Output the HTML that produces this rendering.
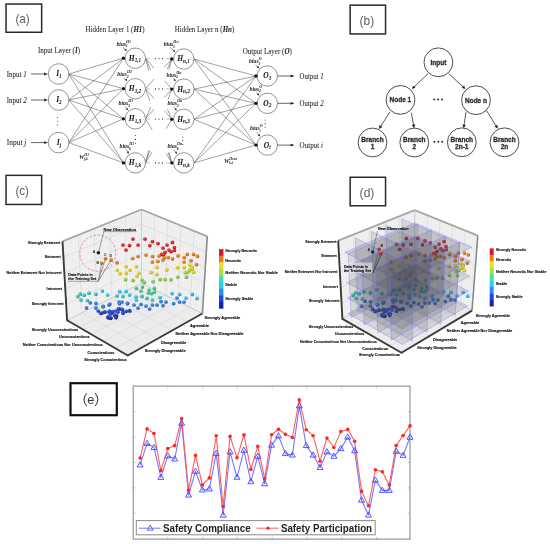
<!DOCTYPE html>
<html><head><meta charset="utf-8"><title>Figure</title>
<style>html,body{margin:0;padding:0;background:#fff;}body{width:550px;height:544px;overflow:hidden;}svg{display:block;filter:blur(0.45px);}</style>
</head><body>
<svg width="550" height="544" viewBox="0 0 550 544">
<rect width="550" height="544" fill="#fff"/>
<defs>
<radialGradient id="g_red" cx="0.4" cy="0.35" r="0.65"><stop offset="0" stop-color="#e4565a"/><stop offset="0.55" stop-color="#dc1e24"/><stop offset="1" stop-color="#9a1519"/></radialGradient>
<radialGradient id="g_org" cx="0.4" cy="0.35" r="0.65"><stop offset="0" stop-color="#eb9b54"/><stop offset="0.55" stop-color="#e57a1c"/><stop offset="1" stop-color="#a05513"/></radialGradient>
<radialGradient id="g_yel" cx="0.4" cy="0.35" r="0.65"><stop offset="0" stop-color="#e9db54"/><stop offset="0.55" stop-color="#e2cf1c"/><stop offset="1" stop-color="#9e9013"/></radialGradient>
<radialGradient id="g_yg" cx="0.4" cy="0.35" r="0.65"><stop offset="0" stop-color="#c6e060"/><stop offset="0.55" stop-color="#b4d62c"/><stop offset="1" stop-color="#7d951e"/></radialGradient>
<radialGradient id="g_lg" cx="0.4" cy="0.35" r="0.65"><stop offset="0" stop-color="#a2d875"/><stop offset="0.55" stop-color="#84cc48"/><stop offset="1" stop-color="#5c8e32"/></radialGradient>
<radialGradient id="g_grn" cx="0.4" cy="0.35" r="0.65"><stop offset="0" stop-color="#6cd5a8"/><stop offset="0.55" stop-color="#3cc88c"/><stop offset="1" stop-color="#2a8c62"/></radialGradient>
<radialGradient id="g_teal" cx="0.4" cy="0.35" r="0.65"><stop offset="0" stop-color="#62d4d1"/><stop offset="0.55" stop-color="#2ec6c2"/><stop offset="1" stop-color="#208a87"/></radialGradient>
<radialGradient id="g_cyan" cx="0.4" cy="0.35" r="0.65"><stop offset="0" stop-color="#63cfea"/><stop offset="0.55" stop-color="#30bfe4"/><stop offset="1" stop-color="#21859f"/></radialGradient>
<radialGradient id="g_blue" cx="0.4" cy="0.35" r="0.65"><stop offset="0" stop-color="#5f9be1"/><stop offset="0.55" stop-color="#2a7ad8"/><stop offset="1" stop-color="#1d5597"/></radialGradient>
<radialGradient id="g_dblue" cx="0.4" cy="0.35" r="0.65"><stop offset="0" stop-color="#5772d5"/><stop offset="0.55" stop-color="#1f44c8"/><stop offset="1" stop-color="#152f8c"/></radialGradient>
<radialGradient id="g_navy" cx="0.4" cy="0.35" r="0.65"><stop offset="0" stop-color="#535fbd"/><stop offset="0.55" stop-color="#1a2aa8"/><stop offset="1" stop-color="#121d75"/></radialGradient>
</defs>
<rect x="6.05" y="4.05" width="35.6" height="28.2" fill="none" stroke="#2a2a2a" stroke-width="1.5"/>
<text x="15.4" y="23.3" font-family='"Liberation Sans", sans-serif' font-size="13" font-weight="normal" font-style="normal" fill="#5e5e66" text-anchor="start" textLength="14.4" lengthAdjust="spacingAndGlyphs">(a)</text>
<rect x="350.15" y="5.15" width="35.4" height="28.8" fill="none" stroke="#2a2a2a" stroke-width="1.5"/>
<text x="359.6" y="24.6" font-family='"Liberation Sans", sans-serif' font-size="13" font-weight="normal" font-style="normal" fill="#5e5e66" text-anchor="start" textLength="14.6" lengthAdjust="spacingAndGlyphs">(b)</text>
<rect x="6.05" y="175.35" width="35.6" height="29.1" fill="none" stroke="#2a2a2a" stroke-width="1.5"/>
<text x="15.4" y="195.2" font-family='"Liberation Sans", sans-serif' font-size="13" font-weight="normal" font-style="normal" fill="#5e5e66" text-anchor="start" textLength="13.5" lengthAdjust="spacingAndGlyphs">(c)</text>
<rect x="350.15" y="177.25" width="35.4" height="28.5" fill="none" stroke="#2a2a2a" stroke-width="1.5"/>
<text x="359.6" y="196.5" font-family='"Liberation Sans", sans-serif' font-size="13" font-weight="normal" font-style="normal" fill="#5e5e66" text-anchor="start" textLength="14.8" lengthAdjust="spacingAndGlyphs">(d)</text>
<rect x="70.5" y="383.2" width="46.3" height="32" fill="none" stroke="#111" stroke-width="2.2"/>
<text x="81.3" y="404.9" font-family='"IPAGothic", "Liberation Sans", sans-serif' font-size="14.2" fill="#3a3a3a">(</text>
<text x="87.3" y="404.3" font-family='"Liberation Sans", sans-serif' font-size="12.6" fill="#3a3a3a" textLength="7.2" lengthAdjust="spacingAndGlyphs">e</text>
<text x="93.4" y="404.9" font-family='"IPAGothic", "Liberation Sans", sans-serif' font-size="14.2" fill="#3a3a3a">)</text>
<line x1="68.8" y1="74" x2="123.5" y2="58.2" stroke="#555" stroke-width="0.55"/>
<line x1="68.8" y1="74" x2="123.5" y2="88.7" stroke="#555" stroke-width="0.55"/>
<line x1="68.8" y1="74" x2="123.5" y2="118.8" stroke="#555" stroke-width="0.55"/>
<line x1="68.8" y1="74" x2="123.5" y2="162.9" stroke="#555" stroke-width="0.55"/>
<line x1="68.8" y1="100" x2="123.5" y2="58.2" stroke="#555" stroke-width="0.55"/>
<line x1="68.8" y1="100" x2="123.5" y2="88.7" stroke="#555" stroke-width="0.55"/>
<line x1="68.8" y1="100" x2="123.5" y2="118.8" stroke="#555" stroke-width="0.55"/>
<line x1="68.8" y1="100" x2="123.5" y2="162.9" stroke="#555" stroke-width="0.55"/>
<line x1="68.8" y1="142.6" x2="123.5" y2="58.2" stroke="#555" stroke-width="0.55"/>
<line x1="68.8" y1="142.6" x2="123.5" y2="88.7" stroke="#555" stroke-width="0.55"/>
<line x1="68.8" y1="142.6" x2="123.5" y2="118.8" stroke="#555" stroke-width="0.55"/>
<line x1="68.8" y1="142.6" x2="123.5" y2="162.9" stroke="#555" stroke-width="0.55"/>
<line x1="194" y1="59" x2="256" y2="76" stroke="#555" stroke-width="0.55"/>
<line x1="194" y1="59" x2="256" y2="103.3" stroke="#555" stroke-width="0.55"/>
<line x1="194" y1="59" x2="256" y2="145.1" stroke="#555" stroke-width="0.55"/>
<line x1="194" y1="89.1" x2="256" y2="76" stroke="#555" stroke-width="0.55"/>
<line x1="194" y1="89.1" x2="256" y2="103.3" stroke="#555" stroke-width="0.55"/>
<line x1="194" y1="89.1" x2="256" y2="145.1" stroke="#555" stroke-width="0.55"/>
<line x1="194" y1="119.3" x2="256" y2="76" stroke="#555" stroke-width="0.55"/>
<line x1="194" y1="119.3" x2="256" y2="103.3" stroke="#555" stroke-width="0.55"/>
<line x1="194" y1="119.3" x2="256" y2="145.1" stroke="#555" stroke-width="0.55"/>
<line x1="194" y1="162.9" x2="256" y2="76" stroke="#555" stroke-width="0.55"/>
<line x1="194" y1="162.9" x2="256" y2="103.3" stroke="#555" stroke-width="0.55"/>
<line x1="194" y1="162.9" x2="256" y2="145.1" stroke="#555" stroke-width="0.55"/>
<line x1="145.5" y1="58.2" x2="153.93" y2="68.1" stroke="#555" stroke-width="0.55"/>
<line x1="145.5" y1="58.2" x2="150.64" y2="70.14" stroke="#555" stroke-width="0.55"/>
<line x1="145.5" y1="58.2" x2="148.67" y2="70.81" stroke="#555" stroke-width="0.55"/>
<line x1="145.5" y1="88.7" x2="154.12" y2="78.97" stroke="#555" stroke-width="0.55"/>
<line x1="145.5" y1="88.7" x2="153.97" y2="98.56" stroke="#555" stroke-width="0.55"/>
<line x1="145.5" y1="88.7" x2="149.84" y2="100.95" stroke="#555" stroke-width="0.55"/>
<line x1="145.5" y1="118.8" x2="150.73" y2="106.9" stroke="#555" stroke-width="0.55"/>
<line x1="145.5" y1="118.8" x2="154.12" y2="109.07" stroke="#555" stroke-width="0.55"/>
<line x1="145.5" y1="118.8" x2="152.16" y2="129.97" stroke="#555" stroke-width="0.55"/>
<line x1="145.5" y1="162.9" x2="148.69" y2="150.3" stroke="#555" stroke-width="0.55"/>
<line x1="145.5" y1="162.9" x2="149.86" y2="150.65" stroke="#555" stroke-width="0.55"/>
<line x1="145.5" y1="162.9" x2="152.21" y2="151.77" stroke="#555" stroke-width="0.55"/>
<line x1="171.8" y1="59" x2="164.51" y2="67.24" stroke="#555" stroke-width="0.55"/>
<line x1="171.8" y1="59" x2="167.37" y2="69.07" stroke="#555" stroke-width="0.55"/>
<line x1="171.8" y1="59" x2="169.1" y2="69.66" stroke="#555" stroke-width="0.55"/>
<line x1="171.8" y1="89.1" x2="164.67" y2="80.72" stroke="#555" stroke-width="0.55"/>
<line x1="171.8" y1="89.1" x2="164.51" y2="97.34" stroke="#555" stroke-width="0.55"/>
<line x1="171.8" y1="89.1" x2="168.11" y2="99.46" stroke="#555" stroke-width="0.55"/>
<line x1="171.8" y1="119.3" x2="167.45" y2="109.2" stroke="#555" stroke-width="0.55"/>
<line x1="171.8" y1="119.3" x2="164.63" y2="110.96" stroke="#555" stroke-width="0.55"/>
<line x1="171.8" y1="119.3" x2="166.12" y2="128.72" stroke="#555" stroke-width="0.55"/>
<line x1="171.8" y1="162.9" x2="169.12" y2="152.23" stroke="#555" stroke-width="0.55"/>
<line x1="171.8" y1="162.9" x2="168.13" y2="152.53" stroke="#555" stroke-width="0.55"/>
<line x1="171.8" y1="162.9" x2="166.17" y2="153.45" stroke="#555" stroke-width="0.55"/>
<line x1="145.5" y1="58.6" x2="150" y2="58.6" stroke="#999" stroke-width="0.6"/>
<circle cx="155.5" cy="58.6" r="0.6" fill="#222" stroke="none" stroke-width="0.8"/>
<circle cx="159" cy="58.6" r="0.6" fill="#222" stroke="none" stroke-width="0.8"/>
<circle cx="162.5" cy="58.6" r="0.6" fill="#222" stroke="none" stroke-width="0.8"/>
<line x1="166" y1="58.6" x2="171.8" y2="58.6" stroke="#999" stroke-width="0.6"/>
<line x1="145.5" y1="88.9" x2="150" y2="88.9" stroke="#999" stroke-width="0.6"/>
<circle cx="155.5" cy="88.9" r="0.6" fill="#222" stroke="none" stroke-width="0.8"/>
<circle cx="159" cy="88.9" r="0.6" fill="#222" stroke="none" stroke-width="0.8"/>
<circle cx="162.5" cy="88.9" r="0.6" fill="#222" stroke="none" stroke-width="0.8"/>
<line x1="166" y1="88.9" x2="171.8" y2="88.9" stroke="#999" stroke-width="0.6"/>
<line x1="145.5" y1="119.05" x2="150" y2="119.05" stroke="#999" stroke-width="0.6"/>
<circle cx="155.5" cy="119.05" r="0.6" fill="#222" stroke="none" stroke-width="0.8"/>
<circle cx="159" cy="119.05" r="0.6" fill="#222" stroke="none" stroke-width="0.8"/>
<circle cx="162.5" cy="119.05" r="0.6" fill="#222" stroke="none" stroke-width="0.8"/>
<line x1="166" y1="119.05" x2="171.8" y2="119.05" stroke="#999" stroke-width="0.6"/>
<line x1="145.5" y1="162.9" x2="150" y2="162.9" stroke="#999" stroke-width="0.6"/>
<circle cx="155.5" cy="162.9" r="0.6" fill="#222" stroke="none" stroke-width="0.8"/>
<circle cx="159" cy="162.9" r="0.6" fill="#222" stroke="none" stroke-width="0.8"/>
<circle cx="162.5" cy="162.9" r="0.6" fill="#222" stroke="none" stroke-width="0.8"/>
<line x1="166" y1="162.9" x2="171.8" y2="162.9" stroke="#999" stroke-width="0.6"/>
<circle cx="58.6" cy="74" r="10.3" fill="#fff" stroke="#666" stroke-width="0.7"/>
<circle cx="58.6" cy="100" r="10.3" fill="#fff" stroke="#666" stroke-width="0.7"/>
<circle cx="58.6" cy="142.6" r="10.3" fill="#fff" stroke="#666" stroke-width="0.7"/>
<circle cx="135.3" cy="58.2" r="10.2" fill="#fff" stroke="#666" stroke-width="0.7"/>
<circle cx="135.3" cy="88.7" r="10.2" fill="#fff" stroke="#666" stroke-width="0.7"/>
<circle cx="135.3" cy="118.8" r="10.2" fill="#fff" stroke="#666" stroke-width="0.7"/>
<circle cx="135.3" cy="162.9" r="10.2" fill="#fff" stroke="#666" stroke-width="0.7"/>
<circle cx="183.8" cy="59" r="10.2" fill="#fff" stroke="#666" stroke-width="0.7"/>
<circle cx="183.8" cy="89.1" r="10.2" fill="#fff" stroke="#666" stroke-width="0.7"/>
<circle cx="183.8" cy="119.3" r="10.2" fill="#fff" stroke="#666" stroke-width="0.7"/>
<circle cx="183.8" cy="162.9" r="10.2" fill="#fff" stroke="#666" stroke-width="0.7"/>
<circle cx="267.3" cy="76" r="10.2" fill="#fff" stroke="#666" stroke-width="0.7"/>
<circle cx="267.3" cy="103.3" r="10.2" fill="#fff" stroke="#666" stroke-width="0.7"/>
<circle cx="267.3" cy="145.1" r="10.2" fill="#fff" stroke="#666" stroke-width="0.7"/>
<circle cx="123.5" cy="58.2" r="1.65" fill="#111" stroke="none" stroke-width="0.8"/>
<circle cx="123.5" cy="88.7" r="1.65" fill="#111" stroke="none" stroke-width="0.8"/>
<circle cx="123.5" cy="118.8" r="1.65" fill="#111" stroke="none" stroke-width="0.8"/>
<circle cx="123.5" cy="162.9" r="1.65" fill="#111" stroke="none" stroke-width="0.8"/>
<circle cx="171.8" cy="59" r="1.65" fill="#111" stroke="none" stroke-width="0.8"/>
<circle cx="171.8" cy="89.1" r="1.65" fill="#111" stroke="none" stroke-width="0.8"/>
<circle cx="171.8" cy="119.3" r="1.65" fill="#111" stroke="none" stroke-width="0.8"/>
<circle cx="171.8" cy="162.9" r="1.65" fill="#111" stroke="none" stroke-width="0.8"/>
<circle cx="256" cy="76" r="1.65" fill="#111" stroke="none" stroke-width="0.8"/>
<circle cx="256" cy="103.3" r="1.65" fill="#111" stroke="none" stroke-width="0.8"/>
<circle cx="256" cy="145.1" r="1.65" fill="#111" stroke="none" stroke-width="0.8"/>
<text x="58.9" y="76.4" font-family='"Liberation Serif", serif' font-size="7.5" font-weight="bold" font-style="italic" fill="#1a1a1a" stroke="#1a1a1a" stroke-width="0.05" text-anchor="middle">I<tspan font-size="5.2" dy="1.6">1</tspan></text>
<text x="58.9" y="102.4" font-family='"Liberation Serif", serif' font-size="7.5" font-weight="bold" font-style="italic" fill="#1a1a1a" stroke="#1a1a1a" stroke-width="0.05" text-anchor="middle">I<tspan font-size="5.2" dy="1.6">2</tspan></text>
<text x="58.9" y="145" font-family='"Liberation Serif", serif' font-size="7.5" font-weight="bold" font-style="italic" fill="#1a1a1a" stroke="#1a1a1a" stroke-width="0.05" text-anchor="middle">I<tspan font-size="5.2" dy="1.6">j</tspan></text>
<text x="135" y="60.6" font-family='"Liberation Serif", serif' font-size="7.5" font-weight="bold" font-style="italic" fill="#1a1a1a" stroke="#1a1a1a" stroke-width="0.05" text-anchor="middle">H<tspan font-size="5.2" dy="1.6">1,1</tspan></text>
<text x="135" y="91.1" font-family='"Liberation Serif", serif' font-size="7.5" font-weight="bold" font-style="italic" fill="#1a1a1a" stroke="#1a1a1a" stroke-width="0.05" text-anchor="middle">H<tspan font-size="5.2" dy="1.6">1,2</tspan></text>
<text x="135" y="121.2" font-family='"Liberation Serif", serif' font-size="7.5" font-weight="bold" font-style="italic" fill="#1a1a1a" stroke="#1a1a1a" stroke-width="0.05" text-anchor="middle">H<tspan font-size="5.2" dy="1.6">1,3</tspan></text>
<text x="135" y="165.3" font-family='"Liberation Serif", serif' font-size="7.5" font-weight="bold" font-style="italic" fill="#1a1a1a" stroke="#1a1a1a" stroke-width="0.05" text-anchor="middle">H<tspan font-size="5.2" dy="1.6">1,k</tspan></text>
<text x="183.5" y="61.4" font-family='"Liberation Serif", serif' font-size="7.5" font-weight="bold" font-style="italic" fill="#1a1a1a" stroke="#1a1a1a" stroke-width="0.05" text-anchor="middle">H<tspan font-size="5.2" dy="1.6">n,1</tspan></text>
<text x="183.5" y="91.5" font-family='"Liberation Serif", serif' font-size="7.5" font-weight="bold" font-style="italic" fill="#1a1a1a" stroke="#1a1a1a" stroke-width="0.05" text-anchor="middle">H<tspan font-size="5.2" dy="1.6">n,2</tspan></text>
<text x="183.5" y="121.7" font-family='"Liberation Serif", serif' font-size="7.5" font-weight="bold" font-style="italic" fill="#1a1a1a" stroke="#1a1a1a" stroke-width="0.05" text-anchor="middle">H<tspan font-size="5.2" dy="1.6">n,3</tspan></text>
<text x="183.5" y="165.3" font-family='"Liberation Serif", serif' font-size="7.5" font-weight="bold" font-style="italic" fill="#1a1a1a" stroke="#1a1a1a" stroke-width="0.05" text-anchor="middle">H<tspan font-size="5.2" dy="1.6">n,k</tspan></text>
<text x="267.3" y="78.4" font-family='"Liberation Serif", serif' font-size="7.5" font-weight="bold" font-style="italic" fill="#1a1a1a" stroke="#1a1a1a" stroke-width="0.05" text-anchor="middle">O<tspan font-size="5.2" dy="1.6">1</tspan></text>
<text x="267.3" y="105.7" font-family='"Liberation Serif", serif' font-size="7.5" font-weight="bold" font-style="italic" fill="#1a1a1a" stroke="#1a1a1a" stroke-width="0.05" text-anchor="middle">O<tspan font-size="5.2" dy="1.6">2</tspan></text>
<text x="267.3" y="147.5" font-family='"Liberation Serif", serif' font-size="7.5" font-weight="bold" font-style="italic" fill="#1a1a1a" stroke="#1a1a1a" stroke-width="0.05" text-anchor="middle">O<tspan font-size="5.2" dy="1.6">i</tspan></text>
<text x="116.4" y="45.6" font-family='"Liberation Serif", serif' font-size="5.8" font-weight="bold" font-style="italic" fill="#1a1a1a">bias<tspan font-size="3.9" dy="-2.9">H1</tspan></text>
<text x="125.8" y="47.4" font-family='"Liberation Serif", serif' font-size="3.9" font-weight="bold" font-style="italic" fill="#1a1a1a">1</text>
<line x1="123" y1="47.5" x2="125.34" y2="49.54" stroke="#222" stroke-width="0.5"/>
<polygon points="126.93,50.91 124.36,50.21 125.87,48.47" fill="#222" stroke="none" stroke-width="1"/>
<text x="117.3" y="75.7" font-family='"Liberation Serif", serif' font-size="5.8" font-weight="bold" font-style="italic" fill="#1a1a1a">bias<tspan font-size="3.9" dy="-2.9">H1</tspan></text>
<text x="126.7" y="77.5" font-family='"Liberation Serif", serif' font-size="3.9" font-weight="bold" font-style="italic" fill="#1a1a1a">2</text>
<line x1="123.9" y1="77.6" x2="125.84" y2="79.49" stroke="#222" stroke-width="0.5"/>
<polygon points="127.35,80.96 124.83,80.11 126.43,78.46" fill="#222" stroke="none" stroke-width="1"/>
<text x="118.5" y="104.9" font-family='"Liberation Serif", serif' font-size="5.8" font-weight="bold" font-style="italic" fill="#1a1a1a">bias<tspan font-size="3.9" dy="-2.9">H1</tspan></text>
<text x="127.9" y="106.7" font-family='"Liberation Serif", serif' font-size="3.9" font-weight="bold" font-style="italic" fill="#1a1a1a">3</text>
<line x1="125.1" y1="106.8" x2="126.75" y2="108.74" stroke="#222" stroke-width="0.5"/>
<polygon points="128.11,110.34 125.68,109.26 127.43,107.77" fill="#222" stroke="none" stroke-width="1"/>
<text x="119.6" y="147.7" font-family='"Liberation Serif", serif' font-size="5.8" font-weight="bold" font-style="italic" fill="#1a1a1a">bias<tspan font-size="3.9" dy="-2.9">H1</tspan></text>
<text x="129" y="149.5" font-family='"Liberation Serif", serif' font-size="3.9" font-weight="bold" font-style="italic" fill="#1a1a1a">k</text>
<line x1="126.2" y1="149.6" x2="127.85" y2="152.01" stroke="#222" stroke-width="0.5"/>
<polygon points="129.03,153.74 126.73,152.41 128.63,151.11" fill="#222" stroke="none" stroke-width="1"/>
<text x="163.7" y="45.8" font-family='"Liberation Serif", serif' font-size="5.8" font-weight="bold" font-style="italic" fill="#1a1a1a">bias<tspan font-size="3.9" dy="-2.9">Hn</tspan></text>
<text x="173.1" y="47.6" font-family='"Liberation Serif", serif' font-size="3.9" font-weight="bold" font-style="italic" fill="#1a1a1a">1</text>
<line x1="170.3" y1="47.7" x2="173.68" y2="50.53" stroke="#222" stroke-width="0.5"/>
<polygon points="175.29,51.88 172.71,51.22 174.19,49.45" fill="#222" stroke="none" stroke-width="1"/>
<text x="166.6" y="76.6" font-family='"Liberation Serif", serif' font-size="5.8" font-weight="bold" font-style="italic" fill="#1a1a1a">bias<tspan font-size="3.9" dy="-2.9">Hn</tspan></text>
<text x="176" y="78.4" font-family='"Liberation Serif", serif' font-size="3.9" font-weight="bold" font-style="italic" fill="#1a1a1a">2</text>
<line x1="173.2" y1="78.5" x2="174.47" y2="79.77" stroke="#222" stroke-width="0.5"/>
<polygon points="175.95,81.25 173.44,80.37 175.07,78.74" fill="#222" stroke="none" stroke-width="1"/>
<text x="167.4" y="105.3" font-family='"Liberation Serif", serif' font-size="5.8" font-weight="bold" font-style="italic" fill="#1a1a1a">bias<tspan font-size="3.9" dy="-2.9">Hn</tspan></text>
<text x="176.8" y="107.1" font-family='"Liberation Serif", serif' font-size="3.9" font-weight="bold" font-style="italic" fill="#1a1a1a">3</text>
<line x1="174" y1="107.2" x2="175.49" y2="109.04" stroke="#222" stroke-width="0.5"/>
<polygon points="176.81,110.67 174.41,109.53 176.2,108.09" fill="#222" stroke="none" stroke-width="1"/>
<text x="167.4" y="148" font-family='"Liberation Serif", serif' font-size="5.8" font-weight="bold" font-style="italic" fill="#1a1a1a">bias<tspan font-size="3.9" dy="-2.9">Hn</tspan></text>
<text x="176.8" y="149.8" font-family='"Liberation Serif", serif' font-size="3.9" font-weight="bold" font-style="italic" fill="#1a1a1a">k</text>
<line x1="174" y1="149.9" x2="175.85" y2="152.36" stroke="#222" stroke-width="0.5"/>
<polygon points="177.12,154.04 174.76,152.81 176.59,151.43" fill="#222" stroke="none" stroke-width="1"/>
<text x="249" y="63" font-family='"Liberation Serif", serif' font-size="5.8" font-weight="bold" font-style="italic" fill="#1a1a1a">bias<tspan font-size="3.9" dy="-2.9">O</tspan></text>
<text x="258.4" y="64.8" font-family='"Liberation Serif", serif' font-size="3.9" font-weight="bold" font-style="italic" fill="#1a1a1a">1</text>
<line x1="255.6" y1="64.9" x2="257.72" y2="66.91" stroke="#222" stroke-width="0.5"/>
<polygon points="259.25,68.36 256.71,67.54 258.3,65.87" fill="#222" stroke="none" stroke-width="1"/>
<text x="249.6" y="90.6" font-family='"Liberation Serif", serif' font-size="5.8" font-weight="bold" font-style="italic" fill="#1a1a1a">bias<tspan font-size="3.9" dy="-2.9">O</tspan></text>
<text x="259" y="92.4" font-family='"Liberation Serif", serif' font-size="3.9" font-weight="bold" font-style="italic" fill="#1a1a1a">2</text>
<line x1="256.2" y1="92.5" x2="257.84" y2="94.09" stroke="#222" stroke-width="0.5"/>
<polygon points="259.34,95.56 256.82,94.71 258.43,93.06" fill="#222" stroke="none" stroke-width="1"/>
<text x="250" y="130.2" font-family='"Liberation Serif", serif' font-size="5.8" font-weight="bold" font-style="italic" fill="#1a1a1a">bias<tspan font-size="3.9" dy="-2.9">O</tspan></text>
<text x="259.4" y="132" font-family='"Liberation Serif", serif' font-size="3.9" font-weight="bold" font-style="italic" fill="#1a1a1a">i</text>
<line x1="256.6" y1="132.1" x2="258.91" y2="134.91" stroke="#222" stroke-width="0.5"/>
<polygon points="260.25,136.53 257.83,135.41 259.61,133.95" fill="#222" stroke="none" stroke-width="1"/>
<circle cx="57.6" cy="117.5" r="0.55" fill="#222" stroke="none" stroke-width="0.8"/>
<circle cx="57.6" cy="121.25" r="0.55" fill="#222" stroke="none" stroke-width="0.8"/>
<circle cx="57.6" cy="125" r="0.55" fill="#222" stroke="none" stroke-width="0.8"/>
<circle cx="135.6" cy="135.5" r="0.55" fill="#222" stroke="none" stroke-width="0.8"/>
<circle cx="135.6" cy="139.4" r="0.55" fill="#222" stroke="none" stroke-width="0.8"/>
<circle cx="135.6" cy="143.3" r="0.55" fill="#222" stroke="none" stroke-width="0.8"/>
<circle cx="182.8" cy="137" r="0.55" fill="#222" stroke="none" stroke-width="0.8"/>
<circle cx="182.8" cy="140.65" r="0.55" fill="#222" stroke="none" stroke-width="0.8"/>
<circle cx="182.8" cy="144.3" r="0.55" fill="#222" stroke="none" stroke-width="0.8"/>
<circle cx="265.1" cy="120" r="0.55" fill="#222" stroke="none" stroke-width="0.8"/>
<circle cx="265.1" cy="123.65" r="0.55" fill="#222" stroke="none" stroke-width="0.8"/>
<circle cx="265.1" cy="127.3" r="0.55" fill="#222" stroke="none" stroke-width="0.8"/>
<line x1="31" y1="74" x2="44.5" y2="74" stroke="#222" stroke-width="0.7"/>
<polygon points="48,74 44.2,75.4 44.2,72.6" fill="#222" stroke="none" stroke-width="1"/>
<line x1="31" y1="100" x2="44.5" y2="100" stroke="#222" stroke-width="0.7"/>
<polygon points="48,100 44.2,101.4 44.2,98.6" fill="#222" stroke="none" stroke-width="1"/>
<line x1="31" y1="142.6" x2="44.5" y2="142.6" stroke="#222" stroke-width="0.7"/>
<polygon points="48,142.6 44.2,144 44.2,141.2" fill="#222" stroke="none" stroke-width="1"/>
<line x1="277.6" y1="76" x2="291" y2="76" stroke="#222" stroke-width="0.7"/>
<polygon points="294.5,76 290.7,77.4 290.7,74.6" fill="#222" stroke="none" stroke-width="1"/>
<line x1="277.6" y1="103.3" x2="291" y2="103.3" stroke="#222" stroke-width="0.7"/>
<polygon points="294.5,103.3 290.7,104.7 290.7,101.9" fill="#222" stroke="none" stroke-width="1"/>
<line x1="277.6" y1="145.1" x2="291" y2="145.1" stroke="#222" stroke-width="0.7"/>
<polygon points="294.5,145.1 290.7,146.5 290.7,143.7" fill="#222" stroke="none" stroke-width="1"/>
<text x="6.8" y="76.7" font-family='"Liberation Serif", serif' font-size="8.2" fill="#1e1e1e" stroke="#1e1e1e" stroke-width="0.06" lengthAdjust="spacingAndGlyphs" textLength="20">Input <tspan font-style="italic">1</tspan></text>
<text x="6.8" y="102.7" font-family='"Liberation Serif", serif' font-size="8.2" fill="#1e1e1e" stroke="#1e1e1e" stroke-width="0.06" lengthAdjust="spacingAndGlyphs" textLength="20">Input <tspan font-style="italic">2</tspan></text>
<text x="6.8" y="145.3" font-family='"Liberation Serif", serif' font-size="8.2" fill="#1e1e1e" stroke="#1e1e1e" stroke-width="0.06" lengthAdjust="spacingAndGlyphs" textLength="19.6">Input <tspan font-style="italic">j</tspan></text>
<text x="299.6" y="78.7" font-family='"Liberation Serif", serif' font-size="8.2" fill="#1e1e1e" stroke="#1e1e1e" stroke-width="0.06" lengthAdjust="spacingAndGlyphs" textLength="24">Output <tspan font-style="italic">1</tspan></text>
<text x="299.6" y="106" font-family='"Liberation Serif", serif' font-size="8.2" fill="#1e1e1e" stroke="#1e1e1e" stroke-width="0.06" lengthAdjust="spacingAndGlyphs" textLength="24">Output <tspan font-style="italic">2</tspan></text>
<text x="299.6" y="147.8" font-family='"Liberation Serif", serif' font-size="8.2" fill="#1e1e1e" stroke="#1e1e1e" stroke-width="0.06" lengthAdjust="spacingAndGlyphs" textLength="23.4">Output <tspan font-style="italic">i</tspan></text>
<text x="38" y="53.2" font-family='"Liberation Serif", serif' font-size="8.2" fill="#1e1e1e" stroke="#1e1e1e" stroke-width="0.06" lengthAdjust="spacingAndGlyphs" textLength="42">Input Layer (<tspan font-weight="bold" font-style="italic">I</tspan>)</text>
<text x="85.6" y="31.8" font-family='"Liberation Serif", serif' font-size="8.2" fill="#1e1e1e" stroke="#1e1e1e" stroke-width="0.06" lengthAdjust="spacingAndGlyphs" textLength="59.1">Hidden Layer 1 (<tspan font-weight="bold" font-style="italic">H1</tspan>)</text>
<text x="174.7" y="32.3" font-family='"Liberation Serif", serif' font-size="8.2" fill="#1e1e1e" stroke="#1e1e1e" stroke-width="0.06" lengthAdjust="spacingAndGlyphs" textLength="59.6">Hidden Layer n (<tspan font-weight="bold" font-style="italic">Hn</tspan>)</text>
<text x="242.7" y="54.0" font-family='"Liberation Serif", serif' font-size="8.2" fill="#1e1e1e" stroke="#1e1e1e" stroke-width="0.06" lengthAdjust="spacingAndGlyphs" textLength="49.1">Output Layer (<tspan font-weight="bold" font-style="italic">O</tspan>)</text>
<text x="79" y="158.5" font-family='"Liberation Serif", serif' font-size="6" font-weight="bold" font-style="italic" fill="#222">W<tspan font-size="3.6" dy="-3">H1</tspan></text>
<text x="84.2" y="159.8" font-family='"Liberation Serif", serif' font-size="3.6" font-weight="bold" font-style="italic" fill="#222">j,k</text>
<text x="224" y="162.5" font-family='"Liberation Serif", serif' font-size="6" font-weight="bold" font-style="italic" fill="#222">W<tspan font-size="3.6" dy="-3">Hout</tspan></text>
<text x="229.2" y="163.8" font-family='"Liberation Serif", serif' font-size="3.6" font-weight="bold" font-style="italic" fill="#222">k,i</text>
<circle cx="438.4" cy="62.3" r="14.4" fill="#fff" stroke="#3a3a3a" stroke-width="0.9"/>
<circle cx="400.5" cy="99.9" r="14.4" fill="#fff" stroke="#3a3a3a" stroke-width="0.9"/>
<circle cx="476" cy="100.2" r="14.4" fill="#fff" stroke="#3a3a3a" stroke-width="0.9"/>
<circle cx="372.5" cy="142.5" r="14.4" fill="#fff" stroke="#3a3a3a" stroke-width="0.9"/>
<circle cx="414.3" cy="142.5" r="14.4" fill="#fff" stroke="#3a3a3a" stroke-width="0.9"/>
<circle cx="461.8" cy="142.3" r="14.4" fill="#fff" stroke="#3a3a3a" stroke-width="0.9"/>
<circle cx="504.5" cy="142.3" r="14.4" fill="#fff" stroke="#3a3a3a" stroke-width="0.9"/>
<text x="438.4" y="65" font-family='"Liberation Sans", sans-serif' font-size="6.5" font-weight="bold" fill="#2a2a2a" stroke="#2a2a2a" stroke-width="0.28" text-anchor="middle">Input</text>
<text x="400.4" y="102.3" font-family='"Liberation Sans", sans-serif' font-size="6.5" font-weight="bold" fill="#2a2a2a" stroke="#2a2a2a" stroke-width="0.28" text-anchor="middle">Node 1</text>
<text x="476" y="102.5" font-family='"Liberation Sans", sans-serif' font-size="6.5" font-weight="bold" fill="#2a2a2a" stroke="#2a2a2a" stroke-width="0.28" text-anchor="middle">Node n</text>
<text x="372.5" y="141.9" font-family='"Liberation Sans", sans-serif' font-size="6.5" font-weight="bold" fill="#2a2a2a" stroke="#2a2a2a" stroke-width="0.28" text-anchor="middle">Branch</text>
<text x="372.5" y="149.1" font-family='"Liberation Sans", sans-serif' font-size="6.5" font-weight="bold" fill="#2a2a2a" stroke="#2a2a2a" stroke-width="0.28" text-anchor="middle">1</text>
<text x="414.3" y="141.9" font-family='"Liberation Sans", sans-serif' font-size="6.5" font-weight="bold" fill="#2a2a2a" stroke="#2a2a2a" stroke-width="0.28" text-anchor="middle">Branch</text>
<text x="414.3" y="149.1" font-family='"Liberation Sans", sans-serif' font-size="6.5" font-weight="bold" fill="#2a2a2a" stroke="#2a2a2a" stroke-width="0.28" text-anchor="middle">2</text>
<text x="461.8" y="141.7" font-family='"Liberation Sans", sans-serif' font-size="6.5" font-weight="bold" fill="#2a2a2a" stroke="#2a2a2a" stroke-width="0.28" text-anchor="middle">Branch</text>
<text x="461.8" y="148.9" font-family='"Liberation Sans", sans-serif' font-size="6.5" font-weight="bold" fill="#2a2a2a" stroke="#2a2a2a" stroke-width="0.28" text-anchor="middle">2n-1</text>
<text x="504.5" y="141.7" font-family='"Liberation Sans", sans-serif' font-size="6.5" font-weight="bold" fill="#2a2a2a" stroke="#2a2a2a" stroke-width="0.28" text-anchor="middle">Branch</text>
<text x="504.5" y="148.9" font-family='"Liberation Sans", sans-serif' font-size="6.5" font-weight="bold" fill="#2a2a2a" stroke="#2a2a2a" stroke-width="0.28" text-anchor="middle">2n</text>
<line x1="428.2" y1="73.6" x2="414.2" y2="86.83" stroke="#222" stroke-width="0.75"/>
<polygon points="411.8,89.1 413.25,85.39 415.58,87.86" fill="#222" stroke="none" stroke-width="1"/>
<line x1="448.7" y1="73.6" x2="463.07" y2="86.86" stroke="#222" stroke-width="0.75"/>
<polygon points="465.5,89.1 461.7,87.91 464.01,85.41" fill="#222" stroke="none" stroke-width="1"/>
<line x1="390" y1="111.8" x2="380.78" y2="126.22" stroke="#222" stroke-width="0.75"/>
<polygon points="379,129 379.51,125.05 382.37,126.88" fill="#222" stroke="none" stroke-width="1"/>
<line x1="411.3" y1="112.7" x2="413.59" y2="124.96" stroke="#222" stroke-width="0.75"/>
<polygon points="414.2,128.2 411.87,124.97 415.21,124.35" fill="#222" stroke="none" stroke-width="1"/>
<line x1="466" y1="112.2" x2="464.09" y2="124.94" stroke="#222" stroke-width="0.75"/>
<polygon points="463.6,128.2 462.45,124.39 465.82,124.89" fill="#222" stroke="none" stroke-width="1"/>
<line x1="486.4" y1="110.4" x2="496.06" y2="125.9" stroke="#222" stroke-width="0.75"/>
<polygon points="497.8,128.7 494.45,126.54 497.34,124.75" fill="#222" stroke="none" stroke-width="1"/>
<circle cx="434.2" cy="99.5" r="0.95" fill="#222" stroke="none" stroke-width="0.8"/>
<circle cx="438.1" cy="99.5" r="0.95" fill="#222" stroke="none" stroke-width="0.8"/>
<circle cx="442" cy="99.5" r="0.95" fill="#222" stroke="none" stroke-width="0.8"/>
<circle cx="434.4" cy="141.8" r="0.95" fill="#222" stroke="none" stroke-width="0.8"/>
<circle cx="438.3" cy="141.8" r="0.95" fill="#222" stroke="none" stroke-width="0.8"/>
<circle cx="442.2" cy="141.8" r="0.95" fill="#222" stroke="none" stroke-width="0.8"/>
<polygon points="141.4,283.2 67.1,320.2 62.5,241.4 141.4,209.5" fill="#f3f3f3" stroke="none" stroke-width="1"/>
<polygon points="141.4,283.2 202.4,313.5 207.3,236.4 141.4,209.5" fill="#f3f3f3" stroke="none" stroke-width="1"/>
<polygon points="141.4,283.2 67.1,320.2 127.7,355.5 202.4,313.5" fill="#efefef" stroke="none" stroke-width="1"/>
<line x1="138.54" y1="284.62" x2="138.37" y2="210.73" stroke="#e3e3e3" stroke-width="0.35"/>
<line x1="141.4" y1="280.37" x2="66.92" y2="317.17" stroke="#e3e3e3" stroke-width="0.35"/>
<line x1="143.75" y1="284.37" x2="143.93" y2="210.53" stroke="#e3e3e3" stroke-width="0.35"/>
<line x1="141.4" y1="280.37" x2="202.59" y2="310.53" stroke="#e3e3e3" stroke-width="0.35"/>
<line x1="138.54" y1="284.62" x2="199.53" y2="315.12" stroke="#e3e3e3" stroke-width="0.35"/>
<line x1="143.75" y1="284.37" x2="69.43" y2="321.56" stroke="#e3e3e3" stroke-width="0.35"/>
<line x1="135.68" y1="286.05" x2="135.33" y2="211.95" stroke="#e3e3e3" stroke-width="0.35"/>
<line x1="141.4" y1="277.53" x2="66.75" y2="314.14" stroke="#e3e3e3" stroke-width="0.35"/>
<line x1="146.09" y1="285.53" x2="146.47" y2="211.57" stroke="#e3e3e3" stroke-width="0.35"/>
<line x1="141.4" y1="277.53" x2="202.78" y2="307.57" stroke="#e3e3e3" stroke-width="0.35"/>
<line x1="135.68" y1="286.05" x2="196.65" y2="316.73" stroke="#e3e3e3" stroke-width="0.35"/>
<line x1="146.09" y1="285.53" x2="71.76" y2="322.92" stroke="#e3e3e3" stroke-width="0.35"/>
<line x1="132.83" y1="287.47" x2="132.3" y2="213.18" stroke="#e3e3e3" stroke-width="0.35"/>
<line x1="141.4" y1="274.7" x2="66.57" y2="311.11" stroke="#e3e3e3" stroke-width="0.35"/>
<line x1="148.44" y1="286.7" x2="149" y2="212.6" stroke="#e3e3e3" stroke-width="0.35"/>
<line x1="141.4" y1="274.7" x2="202.97" y2="304.6" stroke="#e3e3e3" stroke-width="0.35"/>
<line x1="132.83" y1="287.47" x2="193.78" y2="318.35" stroke="#e3e3e3" stroke-width="0.35"/>
<line x1="148.44" y1="286.7" x2="74.09" y2="324.27" stroke="#e3e3e3" stroke-width="0.35"/>
<line x1="129.97" y1="288.89" x2="129.26" y2="214.41" stroke="#e3e3e3" stroke-width="0.35"/>
<line x1="141.4" y1="271.86" x2="66.39" y2="308.08" stroke="#e3e3e3" stroke-width="0.35"/>
<line x1="150.78" y1="287.86" x2="151.54" y2="213.64" stroke="#e3e3e3" stroke-width="0.35"/>
<line x1="141.4" y1="271.86" x2="203.15" y2="301.64" stroke="#e3e3e3" stroke-width="0.35"/>
<line x1="129.97" y1="288.89" x2="190.91" y2="319.96" stroke="#e3e3e3" stroke-width="0.35"/>
<line x1="150.78" y1="287.86" x2="76.42" y2="325.63" stroke="#e3e3e3" stroke-width="0.35"/>
<line x1="127.11" y1="290.32" x2="126.23" y2="215.63" stroke="#e3e3e3" stroke-width="0.35"/>
<line x1="141.4" y1="269.03" x2="66.22" y2="305.05" stroke="#e3e3e3" stroke-width="0.35"/>
<line x1="153.13" y1="289.03" x2="154.07" y2="214.67" stroke="#e3e3e3" stroke-width="0.35"/>
<line x1="141.4" y1="269.03" x2="203.34" y2="298.67" stroke="#e3e3e3" stroke-width="0.35"/>
<line x1="127.11" y1="290.32" x2="188.03" y2="321.58" stroke="#e3e3e3" stroke-width="0.35"/>
<line x1="153.13" y1="289.03" x2="78.75" y2="326.99" stroke="#e3e3e3" stroke-width="0.35"/>
<line x1="124.25" y1="291.74" x2="123.19" y2="216.86" stroke="#e3e3e3" stroke-width="0.35"/>
<line x1="141.4" y1="266.19" x2="66.04" y2="302.02" stroke="#e3e3e3" stroke-width="0.35"/>
<line x1="155.48" y1="290.19" x2="156.61" y2="215.71" stroke="#e3e3e3" stroke-width="0.35"/>
<line x1="141.4" y1="266.19" x2="203.53" y2="295.71" stroke="#e3e3e3" stroke-width="0.35"/>
<line x1="124.25" y1="291.74" x2="185.16" y2="323.19" stroke="#e3e3e3" stroke-width="0.35"/>
<line x1="155.48" y1="290.19" x2="81.08" y2="328.35" stroke="#e3e3e3" stroke-width="0.35"/>
<line x1="121.4" y1="293.16" x2="120.16" y2="218.09" stroke="#e3e3e3" stroke-width="0.35"/>
<line x1="141.4" y1="263.36" x2="65.86" y2="298.98" stroke="#e3e3e3" stroke-width="0.35"/>
<line x1="157.82" y1="291.36" x2="159.14" y2="216.74" stroke="#e3e3e3" stroke-width="0.35"/>
<line x1="141.4" y1="263.36" x2="203.72" y2="292.74" stroke="#e3e3e3" stroke-width="0.35"/>
<line x1="121.4" y1="293.16" x2="182.29" y2="324.81" stroke="#e3e3e3" stroke-width="0.35"/>
<line x1="157.82" y1="291.36" x2="83.42" y2="329.7" stroke="#e3e3e3" stroke-width="0.35"/>
<line x1="118.54" y1="294.58" x2="117.12" y2="219.32" stroke="#e3e3e3" stroke-width="0.35"/>
<line x1="141.4" y1="260.52" x2="65.68" y2="295.95" stroke="#e3e3e3" stroke-width="0.35"/>
<line x1="160.17" y1="292.52" x2="161.68" y2="217.78" stroke="#e3e3e3" stroke-width="0.35"/>
<line x1="141.4" y1="260.52" x2="203.91" y2="289.78" stroke="#e3e3e3" stroke-width="0.35"/>
<line x1="118.54" y1="294.58" x2="179.42" y2="326.42" stroke="#e3e3e3" stroke-width="0.35"/>
<line x1="160.17" y1="292.52" x2="85.75" y2="331.06" stroke="#e3e3e3" stroke-width="0.35"/>
<line x1="115.68" y1="296.01" x2="114.09" y2="220.54" stroke="#e3e3e3" stroke-width="0.35"/>
<line x1="141.4" y1="257.69" x2="65.51" y2="292.92" stroke="#e3e3e3" stroke-width="0.35"/>
<line x1="162.52" y1="293.69" x2="164.21" y2="218.81" stroke="#e3e3e3" stroke-width="0.35"/>
<line x1="141.4" y1="257.69" x2="204.1" y2="286.81" stroke="#e3e3e3" stroke-width="0.35"/>
<line x1="115.68" y1="296.01" x2="176.54" y2="328.04" stroke="#e3e3e3" stroke-width="0.35"/>
<line x1="162.52" y1="293.69" x2="88.08" y2="332.42" stroke="#e3e3e3" stroke-width="0.35"/>
<line x1="112.82" y1="297.43" x2="111.05" y2="221.77" stroke="#e3e3e3" stroke-width="0.35"/>
<line x1="141.4" y1="254.85" x2="65.33" y2="289.89" stroke="#e3e3e3" stroke-width="0.35"/>
<line x1="164.86" y1="294.85" x2="166.75" y2="219.85" stroke="#e3e3e3" stroke-width="0.35"/>
<line x1="141.4" y1="254.85" x2="204.28" y2="283.85" stroke="#e3e3e3" stroke-width="0.35"/>
<line x1="112.82" y1="297.43" x2="173.67" y2="329.65" stroke="#e3e3e3" stroke-width="0.35"/>
<line x1="164.86" y1="294.85" x2="90.41" y2="333.78" stroke="#e3e3e3" stroke-width="0.35"/>
<line x1="109.97" y1="298.85" x2="108.02" y2="223" stroke="#e3e3e3" stroke-width="0.35"/>
<line x1="141.4" y1="252.02" x2="65.15" y2="286.86" stroke="#e3e3e3" stroke-width="0.35"/>
<line x1="167.21" y1="296.02" x2="169.28" y2="220.88" stroke="#e3e3e3" stroke-width="0.35"/>
<line x1="141.4" y1="252.02" x2="204.47" y2="280.88" stroke="#e3e3e3" stroke-width="0.35"/>
<line x1="109.97" y1="298.85" x2="170.8" y2="331.27" stroke="#e3e3e3" stroke-width="0.35"/>
<line x1="167.21" y1="296.02" x2="92.74" y2="335.13" stroke="#e3e3e3" stroke-width="0.35"/>
<line x1="107.11" y1="300.28" x2="104.98" y2="224.22" stroke="#e3e3e3" stroke-width="0.35"/>
<line x1="141.4" y1="249.18" x2="64.98" y2="283.83" stroke="#e3e3e3" stroke-width="0.35"/>
<line x1="169.55" y1="297.18" x2="171.82" y2="221.92" stroke="#e3e3e3" stroke-width="0.35"/>
<line x1="141.4" y1="249.18" x2="204.66" y2="277.92" stroke="#e3e3e3" stroke-width="0.35"/>
<line x1="107.11" y1="300.28" x2="167.92" y2="332.88" stroke="#e3e3e3" stroke-width="0.35"/>
<line x1="169.55" y1="297.18" x2="95.07" y2="336.49" stroke="#e3e3e3" stroke-width="0.35"/>
<line x1="104.25" y1="301.7" x2="101.95" y2="225.45" stroke="#e3e3e3" stroke-width="0.35"/>
<line x1="141.4" y1="246.35" x2="64.8" y2="280.8" stroke="#e3e3e3" stroke-width="0.35"/>
<line x1="171.9" y1="298.35" x2="174.35" y2="222.95" stroke="#e3e3e3" stroke-width="0.35"/>
<line x1="141.4" y1="246.35" x2="204.85" y2="274.95" stroke="#e3e3e3" stroke-width="0.35"/>
<line x1="104.25" y1="301.7" x2="165.05" y2="334.5" stroke="#e3e3e3" stroke-width="0.35"/>
<line x1="171.9" y1="298.35" x2="97.4" y2="337.85" stroke="#e3e3e3" stroke-width="0.35"/>
<line x1="101.39" y1="303.12" x2="98.92" y2="226.68" stroke="#e3e3e3" stroke-width="0.35"/>
<line x1="141.4" y1="243.52" x2="64.62" y2="277.77" stroke="#e3e3e3" stroke-width="0.35"/>
<line x1="174.25" y1="299.52" x2="176.88" y2="223.98" stroke="#e3e3e3" stroke-width="0.35"/>
<line x1="141.4" y1="243.52" x2="205.04" y2="271.98" stroke="#e3e3e3" stroke-width="0.35"/>
<line x1="101.39" y1="303.12" x2="162.18" y2="336.12" stroke="#e3e3e3" stroke-width="0.35"/>
<line x1="174.25" y1="299.52" x2="99.73" y2="339.21" stroke="#e3e3e3" stroke-width="0.35"/>
<line x1="98.53" y1="304.55" x2="95.88" y2="227.9" stroke="#e3e3e3" stroke-width="0.35"/>
<line x1="141.4" y1="240.68" x2="64.45" y2="274.74" stroke="#e3e3e3" stroke-width="0.35"/>
<line x1="176.59" y1="300.68" x2="179.42" y2="225.02" stroke="#e3e3e3" stroke-width="0.35"/>
<line x1="141.4" y1="240.68" x2="205.23" y2="269.02" stroke="#e3e3e3" stroke-width="0.35"/>
<line x1="98.53" y1="304.55" x2="159.3" y2="337.73" stroke="#e3e3e3" stroke-width="0.35"/>
<line x1="176.59" y1="300.68" x2="102.06" y2="340.57" stroke="#e3e3e3" stroke-width="0.35"/>
<line x1="95.68" y1="305.97" x2="92.85" y2="229.13" stroke="#e3e3e3" stroke-width="0.35"/>
<line x1="141.4" y1="237.85" x2="64.27" y2="271.71" stroke="#e3e3e3" stroke-width="0.35"/>
<line x1="178.94" y1="301.85" x2="181.95" y2="226.05" stroke="#e3e3e3" stroke-width="0.35"/>
<line x1="141.4" y1="237.85" x2="205.42" y2="266.05" stroke="#e3e3e3" stroke-width="0.35"/>
<line x1="95.68" y1="305.97" x2="156.43" y2="339.35" stroke="#e3e3e3" stroke-width="0.35"/>
<line x1="178.94" y1="301.85" x2="104.39" y2="341.92" stroke="#e3e3e3" stroke-width="0.35"/>
<line x1="92.82" y1="307.39" x2="89.81" y2="230.36" stroke="#e3e3e3" stroke-width="0.35"/>
<line x1="141.4" y1="235.01" x2="64.09" y2="268.68" stroke="#e3e3e3" stroke-width="0.35"/>
<line x1="181.28" y1="303.01" x2="184.49" y2="227.09" stroke="#e3e3e3" stroke-width="0.35"/>
<line x1="141.4" y1="235.01" x2="205.6" y2="263.09" stroke="#e3e3e3" stroke-width="0.35"/>
<line x1="92.82" y1="307.39" x2="153.56" y2="340.96" stroke="#e3e3e3" stroke-width="0.35"/>
<line x1="181.28" y1="303.01" x2="106.72" y2="343.28" stroke="#e3e3e3" stroke-width="0.35"/>
<line x1="89.96" y1="308.82" x2="86.78" y2="231.58" stroke="#e3e3e3" stroke-width="0.35"/>
<line x1="141.4" y1="232.18" x2="63.92" y2="265.65" stroke="#e3e3e3" stroke-width="0.35"/>
<line x1="183.63" y1="304.18" x2="187.02" y2="228.12" stroke="#e3e3e3" stroke-width="0.35"/>
<line x1="141.4" y1="232.18" x2="205.79" y2="260.12" stroke="#e3e3e3" stroke-width="0.35"/>
<line x1="89.96" y1="308.82" x2="150.68" y2="342.58" stroke="#e3e3e3" stroke-width="0.35"/>
<line x1="183.63" y1="304.18" x2="109.05" y2="344.64" stroke="#e3e3e3" stroke-width="0.35"/>
<line x1="87.1" y1="310.24" x2="83.74" y2="232.81" stroke="#e3e3e3" stroke-width="0.35"/>
<line x1="141.4" y1="229.34" x2="63.74" y2="262.62" stroke="#e3e3e3" stroke-width="0.35"/>
<line x1="185.98" y1="305.34" x2="189.56" y2="229.16" stroke="#e3e3e3" stroke-width="0.35"/>
<line x1="141.4" y1="229.34" x2="205.98" y2="257.16" stroke="#e3e3e3" stroke-width="0.35"/>
<line x1="87.1" y1="310.24" x2="147.81" y2="344.19" stroke="#e3e3e3" stroke-width="0.35"/>
<line x1="185.98" y1="305.34" x2="111.38" y2="346" stroke="#e3e3e3" stroke-width="0.35"/>
<line x1="84.25" y1="311.66" x2="80.71" y2="234.04" stroke="#e3e3e3" stroke-width="0.35"/>
<line x1="141.4" y1="226.51" x2="63.56" y2="259.58" stroke="#e3e3e3" stroke-width="0.35"/>
<line x1="188.32" y1="306.51" x2="192.09" y2="230.19" stroke="#e3e3e3" stroke-width="0.35"/>
<line x1="141.4" y1="226.51" x2="206.17" y2="254.19" stroke="#e3e3e3" stroke-width="0.35"/>
<line x1="84.25" y1="311.66" x2="144.94" y2="345.81" stroke="#e3e3e3" stroke-width="0.35"/>
<line x1="188.32" y1="306.51" x2="113.72" y2="347.35" stroke="#e3e3e3" stroke-width="0.35"/>
<line x1="81.39" y1="313.08" x2="77.67" y2="235.27" stroke="#e3e3e3" stroke-width="0.35"/>
<line x1="141.4" y1="223.67" x2="63.38" y2="256.55" stroke="#e3e3e3" stroke-width="0.35"/>
<line x1="190.67" y1="307.67" x2="194.63" y2="231.23" stroke="#e3e3e3" stroke-width="0.35"/>
<line x1="141.4" y1="223.67" x2="206.36" y2="251.23" stroke="#e3e3e3" stroke-width="0.35"/>
<line x1="81.39" y1="313.08" x2="142.07" y2="347.42" stroke="#e3e3e3" stroke-width="0.35"/>
<line x1="190.67" y1="307.67" x2="116.05" y2="348.71" stroke="#e3e3e3" stroke-width="0.35"/>
<line x1="78.53" y1="314.51" x2="74.64" y2="236.49" stroke="#e3e3e3" stroke-width="0.35"/>
<line x1="141.4" y1="220.84" x2="63.21" y2="253.52" stroke="#e3e3e3" stroke-width="0.35"/>
<line x1="193.02" y1="308.84" x2="197.16" y2="232.26" stroke="#e3e3e3" stroke-width="0.35"/>
<line x1="141.4" y1="220.84" x2="206.55" y2="248.26" stroke="#e3e3e3" stroke-width="0.35"/>
<line x1="78.53" y1="314.51" x2="139.19" y2="349.04" stroke="#e3e3e3" stroke-width="0.35"/>
<line x1="193.02" y1="308.84" x2="118.38" y2="350.07" stroke="#e3e3e3" stroke-width="0.35"/>
<line x1="75.67" y1="315.93" x2="71.6" y2="237.72" stroke="#e3e3e3" stroke-width="0.35"/>
<line x1="141.4" y1="218" x2="63.03" y2="250.49" stroke="#e3e3e3" stroke-width="0.35"/>
<line x1="195.36" y1="310" x2="199.7" y2="233.3" stroke="#e3e3e3" stroke-width="0.35"/>
<line x1="141.4" y1="218" x2="206.73" y2="245.3" stroke="#e3e3e3" stroke-width="0.35"/>
<line x1="75.67" y1="315.93" x2="136.32" y2="350.65" stroke="#e3e3e3" stroke-width="0.35"/>
<line x1="195.36" y1="310" x2="120.71" y2="351.43" stroke="#e3e3e3" stroke-width="0.35"/>
<line x1="72.82" y1="317.35" x2="68.57" y2="238.95" stroke="#e3e3e3" stroke-width="0.35"/>
<line x1="141.4" y1="215.17" x2="62.85" y2="247.46" stroke="#e3e3e3" stroke-width="0.35"/>
<line x1="197.71" y1="311.17" x2="202.23" y2="234.33" stroke="#e3e3e3" stroke-width="0.35"/>
<line x1="141.4" y1="215.17" x2="206.92" y2="242.33" stroke="#e3e3e3" stroke-width="0.35"/>
<line x1="72.82" y1="317.35" x2="133.45" y2="352.27" stroke="#e3e3e3" stroke-width="0.35"/>
<line x1="197.71" y1="311.17" x2="123.04" y2="352.78" stroke="#e3e3e3" stroke-width="0.35"/>
<line x1="69.96" y1="318.78" x2="65.53" y2="240.17" stroke="#e3e3e3" stroke-width="0.35"/>
<line x1="141.4" y1="212.33" x2="62.68" y2="244.43" stroke="#e3e3e3" stroke-width="0.35"/>
<line x1="200.05" y1="312.33" x2="204.77" y2="235.37" stroke="#e3e3e3" stroke-width="0.35"/>
<line x1="141.4" y1="212.33" x2="207.11" y2="239.37" stroke="#e3e3e3" stroke-width="0.35"/>
<line x1="69.96" y1="318.78" x2="130.57" y2="353.88" stroke="#e3e3e3" stroke-width="0.35"/>
<line x1="200.05" y1="312.33" x2="125.37" y2="354.14" stroke="#e3e3e3" stroke-width="0.35"/>
<line x1="141.4" y1="268.46" x2="66.18" y2="304.44" stroke="#d4d4d4" stroke-width="0.55"/>
<line x1="141.4" y1="268.46" x2="203.38" y2="298.08" stroke="#d4d4d4" stroke-width="0.55"/>
<line x1="126.54" y1="290.6" x2="187.46" y2="321.9" stroke="#d4d4d4" stroke-width="0.55"/>
<line x1="153.6" y1="289.26" x2="79.22" y2="327.26" stroke="#d4d4d4" stroke-width="0.55"/>
<line x1="126.54" y1="290.6" x2="125.62" y2="215.88" stroke="#d4d4d4" stroke-width="0.55"/>
<line x1="153.6" y1="289.26" x2="154.58" y2="214.88" stroke="#d4d4d4" stroke-width="0.55"/>
<line x1="141.4" y1="253.72" x2="65.26" y2="288.68" stroke="#d4d4d4" stroke-width="0.55"/>
<line x1="141.4" y1="253.72" x2="204.36" y2="282.66" stroke="#d4d4d4" stroke-width="0.55"/>
<line x1="111.68" y1="298" x2="172.52" y2="330.3" stroke="#d4d4d4" stroke-width="0.55"/>
<line x1="165.8" y1="295.32" x2="91.34" y2="334.32" stroke="#d4d4d4" stroke-width="0.55"/>
<line x1="111.68" y1="298" x2="109.84" y2="222.26" stroke="#d4d4d4" stroke-width="0.55"/>
<line x1="165.8" y1="295.32" x2="167.76" y2="220.26" stroke="#d4d4d4" stroke-width="0.55"/>
<line x1="141.4" y1="238.98" x2="64.34" y2="272.92" stroke="#d4d4d4" stroke-width="0.55"/>
<line x1="141.4" y1="238.98" x2="205.34" y2="267.24" stroke="#d4d4d4" stroke-width="0.55"/>
<line x1="96.82" y1="305.4" x2="157.58" y2="338.7" stroke="#d4d4d4" stroke-width="0.55"/>
<line x1="178" y1="301.38" x2="103.46" y2="341.38" stroke="#d4d4d4" stroke-width="0.55"/>
<line x1="96.82" y1="305.4" x2="94.06" y2="228.64" stroke="#d4d4d4" stroke-width="0.55"/>
<line x1="178" y1="301.38" x2="180.94" y2="225.64" stroke="#d4d4d4" stroke-width="0.55"/>
<line x1="141.4" y1="224.24" x2="63.42" y2="257.16" stroke="#d4d4d4" stroke-width="0.55"/>
<line x1="141.4" y1="224.24" x2="206.32" y2="251.82" stroke="#d4d4d4" stroke-width="0.55"/>
<line x1="81.96" y1="312.8" x2="142.64" y2="347.1" stroke="#d4d4d4" stroke-width="0.55"/>
<line x1="190.2" y1="307.44" x2="115.58" y2="348.44" stroke="#d4d4d4" stroke-width="0.55"/>
<line x1="81.96" y1="312.8" x2="78.28" y2="235.02" stroke="#d4d4d4" stroke-width="0.55"/>
<line x1="190.2" y1="307.44" x2="194.12" y2="231.02" stroke="#d4d4d4" stroke-width="0.55"/>
<line x1="141.4" y1="209.5" x2="141.4" y2="283.2" stroke="#b8b8b8" stroke-width="0.7"/>
<line x1="141.4" y1="283.2" x2="67.1" y2="320.2" stroke="#b8b8b8" stroke-width="0.7"/>
<line x1="141.4" y1="283.2" x2="202.4" y2="313.5" stroke="#b8b8b8" stroke-width="0.7"/>
<circle cx="133" cy="239" r="1.85" fill="url(#g_red)" stroke="none" stroke-width="0.8"/>
<circle cx="145" cy="239" r="1.85" fill="url(#g_red)" stroke="none" stroke-width="0.8"/>
<circle cx="152.4" cy="241.6" r="1.85" fill="url(#g_red)" stroke="none" stroke-width="0.8"/>
<circle cx="158" cy="243.6" r="1.85" fill="url(#g_red)" stroke="none" stroke-width="0.8"/>
<circle cx="167" cy="245" r="1.85" fill="url(#g_red)" stroke="none" stroke-width="0.8"/>
<circle cx="172.4" cy="242.4" r="1.85" fill="url(#g_red)" stroke="none" stroke-width="0.8"/>
<circle cx="123" cy="245" r="1.85" fill="url(#g_red)" stroke="none" stroke-width="0.8"/>
<circle cx="129.6" cy="245.6" r="1.85" fill="url(#g_red)" stroke="none" stroke-width="0.8"/>
<circle cx="138" cy="245" r="1.85" fill="url(#g_red)" stroke="none" stroke-width="0.8"/>
<circle cx="149.8" cy="245.6" r="1.85" fill="url(#g_red)" stroke="none" stroke-width="0.8"/>
<circle cx="126" cy="250" r="1.85" fill="url(#g_red)" stroke="none" stroke-width="0.8"/>
<circle cx="163" cy="248" r="1.85" fill="url(#g_red)" stroke="none" stroke-width="0.8"/>
<circle cx="169" cy="250" r="1.85" fill="url(#g_red)" stroke="none" stroke-width="0.8"/>
<circle cx="174.4" cy="247.6" r="1.85" fill="url(#g_red)" stroke="none" stroke-width="0.8"/>
<circle cx="174.4" cy="250.5" r="1.85" fill="url(#g_red)" stroke="none" stroke-width="0.8"/>
<circle cx="165" cy="252.4" r="1.85" fill="url(#g_red)" stroke="none" stroke-width="0.8"/>
<circle cx="161.6" cy="254.4" r="1.85" fill="url(#g_red)" stroke="none" stroke-width="0.8"/>
<circle cx="171" cy="251.6" r="1.85" fill="url(#g_red)" stroke="none" stroke-width="0.8"/>
<circle cx="163.5" cy="255" r="1.85" fill="url(#g_red)" stroke="none" stroke-width="0.8"/>
<circle cx="132.7" cy="258.5" r="1.85" fill="url(#g_org)" stroke="none" stroke-width="0.8"/>
<circle cx="138" cy="256.5" r="1.85" fill="url(#g_org)" stroke="none" stroke-width="0.8"/>
<circle cx="146" cy="255" r="1.85" fill="url(#g_org)" stroke="none" stroke-width="0.8"/>
<circle cx="152.6" cy="256.5" r="1.85" fill="url(#g_org)" stroke="none" stroke-width="0.8"/>
<circle cx="159" cy="256" r="1.85" fill="url(#g_org)" stroke="none" stroke-width="0.8"/>
<circle cx="164.3" cy="257.8" r="1.85" fill="url(#g_org)" stroke="none" stroke-width="0.8"/>
<circle cx="168.2" cy="257.6" r="1.85" fill="url(#g_org)" stroke="none" stroke-width="0.8"/>
<circle cx="172.5" cy="258.8" r="1.85" fill="url(#g_org)" stroke="none" stroke-width="0.8"/>
<circle cx="178" cy="255.8" r="1.85" fill="url(#g_org)" stroke="none" stroke-width="0.8"/>
<circle cx="184.2" cy="257.6" r="1.85" fill="url(#g_org)" stroke="none" stroke-width="0.8"/>
<circle cx="187.3" cy="254.4" r="1.85" fill="url(#g_org)" stroke="none" stroke-width="0.8"/>
<circle cx="193.6" cy="254.4" r="1.85" fill="url(#g_org)" stroke="none" stroke-width="0.8"/>
<circle cx="197.5" cy="256.2" r="1.85" fill="url(#g_org)" stroke="none" stroke-width="0.8"/>
<circle cx="117" cy="262.7" r="1.85" fill="url(#g_org)" stroke="none" stroke-width="0.8"/>
<circle cx="152.3" cy="262" r="1.85" fill="url(#g_org)" stroke="none" stroke-width="0.8"/>
<circle cx="157.8" cy="261.3" r="1.85" fill="url(#g_org)" stroke="none" stroke-width="0.8"/>
<circle cx="163" cy="259.8" r="1.85" fill="url(#g_org)" stroke="none" stroke-width="0.8"/>
<circle cx="184" cy="262" r="1.85" fill="url(#g_org)" stroke="none" stroke-width="0.8"/>
<circle cx="190.9" cy="260.7" r="1.85" fill="url(#g_org)" stroke="none" stroke-width="0.8"/>
<circle cx="196.5" cy="264.6" r="1.85" fill="url(#g_org)" stroke="none" stroke-width="0.8"/>
<circle cx="126" cy="266.6" r="1.85" fill="url(#g_yel)" stroke="none" stroke-width="0.8"/>
<circle cx="136.4" cy="266.6" r="1.85" fill="url(#g_yel)" stroke="none" stroke-width="0.8"/>
<circle cx="157" cy="267.3" r="1.85" fill="url(#g_yel)" stroke="none" stroke-width="0.8"/>
<circle cx="166.8" cy="269.7" r="1.85" fill="url(#g_yel)" stroke="none" stroke-width="0.8"/>
<circle cx="177.6" cy="267.5" r="1.85" fill="url(#g_yel)" stroke="none" stroke-width="0.8"/>
<circle cx="184.1" cy="267.6" r="1.85" fill="url(#g_yel)" stroke="none" stroke-width="0.8"/>
<circle cx="117.2" cy="270" r="1.85" fill="url(#g_yel)" stroke="none" stroke-width="0.8"/>
<circle cx="130" cy="270" r="1.85" fill="url(#g_yel)" stroke="none" stroke-width="0.8"/>
<circle cx="120" cy="273.6" r="1.85" fill="url(#g_yel)" stroke="none" stroke-width="0.8"/>
<circle cx="126.2" cy="273" r="1.85" fill="url(#g_yel)" stroke="none" stroke-width="0.8"/>
<circle cx="137" cy="276" r="1.85" fill="url(#g_yel)" stroke="none" stroke-width="0.8"/>
<circle cx="139" cy="273" r="1.85" fill="url(#g_yel)" stroke="none" stroke-width="0.8"/>
<circle cx="151" cy="272.4" r="1.85" fill="url(#g_yel)" stroke="none" stroke-width="0.8"/>
<circle cx="156.8" cy="274.4" r="1.85" fill="url(#g_yel)" stroke="none" stroke-width="0.8"/>
<circle cx="189.7" cy="264.8" r="1.85" fill="url(#g_yel)" stroke="none" stroke-width="0.8"/>
<circle cx="192.2" cy="267" r="1.85" fill="url(#g_yel)" stroke="none" stroke-width="0.8"/>
<circle cx="191.9" cy="269.2" r="1.85" fill="url(#g_yel)" stroke="none" stroke-width="0.8"/>
<circle cx="193.6" cy="272.2" r="1.85" fill="url(#g_yel)" stroke="none" stroke-width="0.8"/>
<circle cx="186" cy="272.4" r="1.85" fill="url(#g_yg)" stroke="none" stroke-width="0.8"/>
<circle cx="188" cy="272" r="1.85" fill="url(#g_yg)" stroke="none" stroke-width="0.8"/>
<circle cx="189.7" cy="269.8" r="1.85" fill="url(#g_yg)" stroke="none" stroke-width="0.8"/>
<circle cx="185.3" cy="272.5" r="1.85" fill="url(#g_yg)" stroke="none" stroke-width="0.8"/>
<circle cx="125.6" cy="279.6" r="1.85" fill="url(#g_lg)" stroke="none" stroke-width="0.8"/>
<circle cx="133" cy="280.4" r="1.85" fill="url(#g_lg)" stroke="none" stroke-width="0.8"/>
<circle cx="142" cy="280" r="1.85" fill="url(#g_lg)" stroke="none" stroke-width="0.8"/>
<circle cx="144.4" cy="282.4" r="1.85" fill="url(#g_lg)" stroke="none" stroke-width="0.8"/>
<circle cx="153" cy="281.6" r="1.85" fill="url(#g_lg)" stroke="none" stroke-width="0.8"/>
<circle cx="160" cy="279.6" r="1.85" fill="url(#g_lg)" stroke="none" stroke-width="0.8"/>
<circle cx="165" cy="279.6" r="1.85" fill="url(#g_lg)" stroke="none" stroke-width="0.8"/>
<circle cx="171" cy="279.6" r="1.85" fill="url(#g_lg)" stroke="none" stroke-width="0.8"/>
<circle cx="177.8" cy="277" r="1.85" fill="url(#g_lg)" stroke="none" stroke-width="0.8"/>
<circle cx="186.4" cy="277.2" r="1.85" fill="url(#g_lg)" stroke="none" stroke-width="0.8"/>
<circle cx="142.4" cy="287" r="1.85" fill="url(#g_grn)" stroke="none" stroke-width="0.8"/>
<circle cx="136.4" cy="288.4" r="1.85" fill="url(#g_grn)" stroke="none" stroke-width="0.8"/>
<circle cx="141" cy="291" r="1.85" fill="url(#g_grn)" stroke="none" stroke-width="0.8"/>
<circle cx="149" cy="290" r="1.85" fill="url(#g_grn)" stroke="none" stroke-width="0.8"/>
<circle cx="154.4" cy="288.4" r="1.85" fill="url(#g_grn)" stroke="none" stroke-width="0.8"/>
<circle cx="154.4" cy="292" r="1.85" fill="url(#g_grn)" stroke="none" stroke-width="0.8"/>
<circle cx="148.4" cy="293" r="1.85" fill="url(#g_grn)" stroke="none" stroke-width="0.8"/>
<circle cx="151.6" cy="293.6" r="1.85" fill="url(#g_grn)" stroke="none" stroke-width="0.8"/>
<circle cx="77.8" cy="296.5" r="1.85" fill="url(#g_grn)" stroke="none" stroke-width="0.8"/>
<circle cx="80.4" cy="293.9" r="1.85" fill="url(#g_teal)" stroke="none" stroke-width="0.8"/>
<circle cx="84.2" cy="295.2" r="1.85" fill="url(#g_teal)" stroke="none" stroke-width="0.8"/>
<circle cx="81" cy="299.9" r="1.85" fill="url(#g_teal)" stroke="none" stroke-width="0.8"/>
<circle cx="89" cy="293.2" r="1.85" fill="url(#g_teal)" stroke="none" stroke-width="0.8"/>
<circle cx="95.9" cy="294.2" r="1.85" fill="url(#g_teal)" stroke="none" stroke-width="0.8"/>
<circle cx="87.4" cy="300.5" r="1.85" fill="url(#g_teal)" stroke="none" stroke-width="0.8"/>
<circle cx="102.4" cy="291" r="1.85" fill="url(#g_teal)" stroke="none" stroke-width="0.8"/>
<circle cx="107.6" cy="295" r="1.85" fill="url(#g_teal)" stroke="none" stroke-width="0.8"/>
<circle cx="147" cy="298.4" r="1.85" fill="url(#g_teal)" stroke="none" stroke-width="0.8"/>
<circle cx="152.4" cy="300" r="1.85" fill="url(#g_teal)" stroke="none" stroke-width="0.8"/>
<circle cx="119.6" cy="291.6" r="1.85" fill="url(#g_cyan)" stroke="none" stroke-width="0.8"/>
<circle cx="126" cy="291.6" r="1.85" fill="url(#g_cyan)" stroke="none" stroke-width="0.8"/>
<circle cx="117" cy="296" r="1.85" fill="url(#g_cyan)" stroke="none" stroke-width="0.8"/>
<circle cx="123" cy="296.4" r="1.85" fill="url(#g_cyan)" stroke="none" stroke-width="0.8"/>
<circle cx="129.6" cy="295" r="1.85" fill="url(#g_cyan)" stroke="none" stroke-width="0.8"/>
<circle cx="136" cy="297" r="1.85" fill="url(#g_cyan)" stroke="none" stroke-width="0.8"/>
<circle cx="136.4" cy="300" r="1.85" fill="url(#g_cyan)" stroke="none" stroke-width="0.8"/>
<circle cx="142" cy="296.4" r="1.85" fill="url(#g_cyan)" stroke="none" stroke-width="0.8"/>
<circle cx="160" cy="297.6" r="1.85" fill="url(#g_cyan)" stroke="none" stroke-width="0.8"/>
<circle cx="172" cy="293.6" r="1.85" fill="url(#g_cyan)" stroke="none" stroke-width="0.8"/>
<circle cx="179.6" cy="294.4" r="1.85" fill="url(#g_cyan)" stroke="none" stroke-width="0.8"/>
<circle cx="186" cy="298" r="1.85" fill="url(#g_cyan)" stroke="none" stroke-width="0.8"/>
<circle cx="192.4" cy="294.4" r="1.85" fill="url(#g_cyan)" stroke="none" stroke-width="0.8"/>
<circle cx="197" cy="298.4" r="1.85" fill="url(#g_cyan)" stroke="none" stroke-width="0.8"/>
<circle cx="119" cy="302" r="1.85" fill="url(#g_blue)" stroke="none" stroke-width="0.8"/>
<circle cx="122" cy="302" r="1.85" fill="url(#g_blue)" stroke="none" stroke-width="0.8"/>
<circle cx="127.6" cy="303.6" r="1.85" fill="url(#g_blue)" stroke="none" stroke-width="0.8"/>
<circle cx="134" cy="305" r="1.85" fill="url(#g_blue)" stroke="none" stroke-width="0.8"/>
<circle cx="141" cy="304.4" r="1.85" fill="url(#g_blue)" stroke="none" stroke-width="0.8"/>
<circle cx="146" cy="306" r="1.85" fill="url(#g_blue)" stroke="none" stroke-width="0.8"/>
<circle cx="152.4" cy="305" r="1.85" fill="url(#g_blue)" stroke="none" stroke-width="0.8"/>
<circle cx="157" cy="305" r="1.85" fill="url(#g_blue)" stroke="none" stroke-width="0.8"/>
<circle cx="161" cy="301.6" r="1.85" fill="url(#g_blue)" stroke="none" stroke-width="0.8"/>
<circle cx="166" cy="302" r="1.85" fill="url(#g_blue)" stroke="none" stroke-width="0.8"/>
<circle cx="163" cy="305.6" r="1.85" fill="url(#g_blue)" stroke="none" stroke-width="0.8"/>
<circle cx="173.6" cy="303.6" r="1.85" fill="url(#g_blue)" stroke="none" stroke-width="0.8"/>
<circle cx="177" cy="298" r="1.85" fill="url(#g_blue)" stroke="none" stroke-width="0.8"/>
<circle cx="179.6" cy="302" r="1.85" fill="url(#g_blue)" stroke="none" stroke-width="0.8"/>
<circle cx="184" cy="302" r="1.85" fill="url(#g_blue)" stroke="none" stroke-width="0.8"/>
<circle cx="138" cy="308" r="1.85" fill="url(#g_blue)" stroke="none" stroke-width="0.8"/>
<circle cx="149.6" cy="309" r="1.85" fill="url(#g_blue)" stroke="none" stroke-width="0.8"/>
<circle cx="109" cy="305" r="1.85" fill="url(#g_blue)" stroke="none" stroke-width="0.8"/>
<circle cx="103" cy="306.4" r="1.85" fill="url(#g_blue)" stroke="none" stroke-width="0.8"/>
<circle cx="130" cy="311" r="1.85" fill="url(#g_blue)" stroke="none" stroke-width="0.8"/>
<circle cx="90.3" cy="302.8" r="1.85" fill="url(#g_blue)" stroke="none" stroke-width="0.8"/>
<circle cx="95.9" cy="303.3" r="1.85" fill="url(#g_blue)" stroke="none" stroke-width="0.8"/>
<circle cx="86.5" cy="307.9" r="1.85" fill="url(#g_blue)" stroke="none" stroke-width="0.8"/>
<circle cx="95.9" cy="307.9" r="1.85" fill="url(#g_blue)" stroke="none" stroke-width="0.8"/>
<circle cx="103.3" cy="306.6" r="1.85" fill="url(#g_blue)" stroke="none" stroke-width="0.8"/>
<circle cx="109.9" cy="304.1" r="1.85" fill="url(#g_blue)" stroke="none" stroke-width="0.8"/>
<circle cx="119.5" cy="303.7" r="1.85" fill="url(#g_blue)" stroke="none" stroke-width="0.8"/>
<circle cx="127.4" cy="303.3" r="1.85" fill="url(#g_blue)" stroke="none" stroke-width="0.8"/>
<circle cx="102" cy="313" r="1.85" fill="url(#g_dblue)" stroke="none" stroke-width="0.8"/>
<circle cx="105" cy="312" r="1.85" fill="url(#g_dblue)" stroke="none" stroke-width="0.8"/>
<circle cx="109" cy="312" r="1.85" fill="url(#g_dblue)" stroke="none" stroke-width="0.8"/>
<circle cx="112" cy="313" r="1.85" fill="url(#g_dblue)" stroke="none" stroke-width="0.8"/>
<circle cx="116" cy="311" r="1.85" fill="url(#g_dblue)" stroke="none" stroke-width="0.8"/>
<circle cx="120" cy="309" r="1.85" fill="url(#g_dblue)" stroke="none" stroke-width="0.8"/>
<circle cx="123" cy="312" r="1.85" fill="url(#g_dblue)" stroke="none" stroke-width="0.8"/>
<circle cx="115" cy="315.6" r="1.85" fill="url(#g_dblue)" stroke="none" stroke-width="0.8"/>
<circle cx="118" cy="312" r="1.85" fill="url(#g_dblue)" stroke="none" stroke-width="0.8"/>
<circle cx="98.2" cy="311" r="1.85" fill="url(#g_dblue)" stroke="none" stroke-width="0.8"/>
<circle cx="100.7" cy="313.3" r="1.85" fill="url(#g_dblue)" stroke="none" stroke-width="0.8"/>
<circle cx="104.5" cy="312" r="1.85" fill="url(#g_dblue)" stroke="none" stroke-width="0.8"/>
<circle cx="109.6" cy="311" r="1.85" fill="url(#g_dblue)" stroke="none" stroke-width="0.8"/>
<circle cx="112.8" cy="311.7" r="1.85" fill="url(#g_dblue)" stroke="none" stroke-width="0.8"/>
<circle cx="110.3" cy="313.9" r="1.85" fill="url(#g_dblue)" stroke="none" stroke-width="0.8"/>
<circle cx="114.7" cy="315.2" r="1.85" fill="url(#g_dblue)" stroke="none" stroke-width="0.8"/>
<circle cx="118.5" cy="308.8" r="1.85" fill="url(#g_dblue)" stroke="none" stroke-width="0.8"/>
<circle cx="122.3" cy="309.4" r="1.85" fill="url(#g_dblue)" stroke="none" stroke-width="0.8"/>
<circle cx="123" cy="313.3" r="1.85" fill="url(#g_dblue)" stroke="none" stroke-width="0.8"/>
<circle cx="126.2" cy="311.3" r="1.85" fill="url(#g_dblue)" stroke="none" stroke-width="0.8"/>
<circle cx="129.3" cy="310.7" r="1.85" fill="url(#g_dblue)" stroke="none" stroke-width="0.8"/>
<circle cx="108" cy="317" r="1.85" fill="url(#g_navy)" stroke="none" stroke-width="0.8"/>
<circle cx="111" cy="318" r="1.85" fill="url(#g_navy)" stroke="none" stroke-width="0.8"/>
<circle cx="116.6" cy="315.8" r="1.85" fill="url(#g_navy)" stroke="none" stroke-width="0.8"/>
<circle cx="108.3" cy="317.7" r="1.85" fill="url(#g_navy)" stroke="none" stroke-width="0.8"/>
<circle cx="110.3" cy="318.3" r="1.85" fill="url(#g_navy)" stroke="none" stroke-width="0.8"/>
<circle cx="116" cy="317.7" r="1.85" fill="url(#g_navy)" stroke="none" stroke-width="0.8"/>
<circle cx="97.8" cy="253.2" r="18" fill="none" stroke="#f07878" stroke-width="0.85" stroke-dasharray="2.4 1.6"/>
<circle cx="98.4" cy="252.8" r="1.8" fill="#151515" stroke="none" stroke-width="0.8"/>
<circle cx="101.7" cy="263" r="1.85" fill="url(#g_org)" stroke="none" stroke-width="0.8"/>
<circle cx="105.5" cy="258.6" r="1.85" fill="url(#g_org)" stroke="none" stroke-width="0.8"/>
<circle cx="111.1" cy="259.9" r="1.85" fill="url(#g_org)" stroke="none" stroke-width="0.8"/>
<line x1="62.5" y1="241.4" x2="141.4" y2="209.5" stroke="#a6a6a6" stroke-width="1.8"/>
<line x1="141.4" y1="209.5" x2="207.3" y2="236.4" stroke="#a6a6a6" stroke-width="1.8"/>
<line x1="207.3" y1="236.4" x2="202.4" y2="313.5" stroke="#8a8a8a" stroke-width="1.6"/>
<line x1="62.5" y1="241.4" x2="67.1" y2="320.2" stroke="#3a3a3a" stroke-width="1.9"/>
<line x1="67.1" y1="320.2" x2="127.7" y2="355.5" stroke="#3a3a3a" stroke-width="1.9"/>
<line x1="127.7" y1="355.5" x2="202.4" y2="313.5" stroke="#3a3a3a" stroke-width="1.9"/>
<circle cx="67.1" cy="320.2" r="0.95" fill="#3a3a3a"/>
<circle cx="127.7" cy="355.5" r="0.95" fill="#3a3a3a"/>
<text x="27.9" y="243.65" font-family='"Liberation Sans", sans-serif' font-size="4.4" font-weight="bold" font-style="normal" fill="#141414" text-anchor="start" textLength="32.4" lengthAdjust="spacingAndGlyphs" stroke="#141414" stroke-width="0.16">Strongly Extravert</text>
<text x="44.9" y="258.25" font-family='"Liberation Sans", sans-serif' font-size="4.4" font-weight="bold" font-style="normal" fill="#141414" text-anchor="start" textLength="15.7" lengthAdjust="spacingAndGlyphs" stroke="#141414" stroke-width="0.16">Extravert</text>
<text x="6.6" y="274.15" font-family='"Liberation Sans", sans-serif' font-size="4.4" font-weight="bold" font-style="normal" fill="#141414" text-anchor="start" textLength="54.9" lengthAdjust="spacingAndGlyphs" stroke="#141414" stroke-width="0.16">Neither Extravert Nor Introvert</text>
<text x="46.6" y="289.85" font-family='"Liberation Sans", sans-serif' font-size="4.4" font-weight="bold" font-style="normal" fill="#141414" text-anchor="start" textLength="15.4" lengthAdjust="spacingAndGlyphs" stroke="#141414" stroke-width="0.16">Introvert</text>
<text x="31.8" y="304.85" font-family='"Liberation Sans", sans-serif' font-size="4.4" font-weight="bold" font-style="normal" fill="#141414" text-anchor="start" textLength="31.8" lengthAdjust="spacingAndGlyphs" stroke="#141414" stroke-width="0.16">Strongly Introvert</text>
<text x="31.8" y="331.05" font-family='"Liberation Sans", sans-serif' font-size="4.4" font-weight="bold" font-style="normal" fill="#141414" text-anchor="start" textLength="46.3" lengthAdjust="spacingAndGlyphs" stroke="#141414" stroke-width="0.16">Strongly Unconscientious</text>
<text x="59.1" y="338.25" font-family='"Liberation Sans", sans-serif' font-size="4.4" font-weight="bold" font-style="normal" fill="#141414" text-anchor="start" textLength="30.5" lengthAdjust="spacingAndGlyphs" stroke="#141414" stroke-width="0.16">Unconscientious</text>
<text x="22.7" y="346.35" font-family='"Liberation Sans", sans-serif' font-size="4.4" font-weight="bold" font-style="normal" fill="#141414" text-anchor="start" textLength="80" lengthAdjust="spacingAndGlyphs" stroke="#141414" stroke-width="0.16">Neither Conscientious Nor Unconscientious</text>
<text x="87.5" y="353.95" font-family='"Liberation Sans", sans-serif' font-size="4.4" font-weight="bold" font-style="normal" fill="#141414" text-anchor="start" textLength="26.8" lengthAdjust="spacingAndGlyphs" stroke="#141414" stroke-width="0.16">Conscientious</text>
<text x="84.2" y="360.55" font-family='"Liberation Sans", sans-serif' font-size="4.4" font-weight="bold" font-style="normal" fill="#141414" text-anchor="start" textLength="42.5" lengthAdjust="spacingAndGlyphs" stroke="#141414" stroke-width="0.16">Strongly Conscientious</text>
<text x="204.6" y="319.35" font-family='"Liberation Sans", sans-serif' font-size="4.4" font-weight="bold" font-style="normal" fill="#141414" text-anchor="start" textLength="35.6" lengthAdjust="spacingAndGlyphs" stroke="#141414" stroke-width="0.16">Strongly Agreeable</text>
<text x="190" y="326.95" font-family='"Liberation Sans", sans-serif' font-size="4.4" font-weight="bold" font-style="normal" fill="#141414" text-anchor="start" textLength="19" lengthAdjust="spacingAndGlyphs" stroke="#141414" stroke-width="0.16">Agreeable</text>
<text x="175.4" y="335.25" font-family='"Liberation Sans", sans-serif' font-size="4.4" font-weight="bold" font-style="normal" fill="#141414" text-anchor="start" textLength="68.1" lengthAdjust="spacingAndGlyphs" stroke="#141414" stroke-width="0.16">Neither Agreeable Nor Disagreeable</text>
<text x="161" y="344.45" font-family='"Liberation Sans", sans-serif' font-size="4.4" font-weight="bold" font-style="normal" fill="#141414" text-anchor="start" textLength="25.3" lengthAdjust="spacingAndGlyphs" stroke="#141414" stroke-width="0.16">Disagreeable</text>
<text x="144.8" y="352.25" font-family='"Liberation Sans", sans-serif' font-size="4.4" font-weight="bold" font-style="normal" fill="#141414" text-anchor="start" textLength="40.8" lengthAdjust="spacingAndGlyphs" stroke="#141414" stroke-width="0.16">Strongly Disagreeable</text>
<text x="225.3" y="251.55" font-family='"Liberation Sans", sans-serif' font-size="4.4" font-weight="bold" font-style="normal" fill="#141414" text-anchor="start" textLength="31.5" lengthAdjust="spacingAndGlyphs" stroke="#141414" stroke-width="0.16">Strongly Neurotic</text>
<text x="225.3" y="262.15" font-family='"Liberation Sans", sans-serif' font-size="4.4" font-weight="bold" font-style="normal" fill="#141414" text-anchor="start" textLength="15.7" lengthAdjust="spacingAndGlyphs" stroke="#141414" stroke-width="0.16">Neurotic</text>
<text x="225.3" y="274.35" font-family='"Liberation Sans", sans-serif' font-size="4.4" font-weight="bold" font-style="normal" fill="#141414" text-anchor="start" textLength="52.5" lengthAdjust="spacingAndGlyphs" stroke="#141414" stroke-width="0.16">Neither Neurotic Nor Stable</text>
<text x="225.3" y="286.15" font-family='"Liberation Sans", sans-serif' font-size="4.4" font-weight="bold" font-style="normal" fill="#141414" text-anchor="start" textLength="11.6" lengthAdjust="spacingAndGlyphs" stroke="#141414" stroke-width="0.16">Stable</text>
<text x="225.3" y="300.05" font-family='"Liberation Sans", sans-serif' font-size="4.4" font-weight="bold" font-style="normal" fill="#141414" text-anchor="start" textLength="27.9" lengthAdjust="spacingAndGlyphs" stroke="#141414" stroke-width="0.16">Strongly Stable</text>
<text x="103.5" y="231.05" font-family='"Liberation Sans", sans-serif' font-size="4.4" font-weight="bold" font-style="normal" fill="#141414" text-anchor="start" textLength="32.6" lengthAdjust="spacingAndGlyphs" stroke="#141414" stroke-width="0.16">New Observation</text>
<text x="68.3" y="276.05" font-family='"Liberation Sans", sans-serif' font-size="4.4" font-weight="bold" font-style="normal" fill="#141414" text-anchor="start" textLength="24.5" lengthAdjust="spacingAndGlyphs" stroke="#141414" stroke-width="0.16">Data Points in</text>
<text x="68.3" y="280.45" font-family='"Liberation Sans", sans-serif' font-size="4.4" font-weight="bold" font-style="normal" fill="#141414" text-anchor="start" textLength="28" lengthAdjust="spacingAndGlyphs" stroke="#141414" stroke-width="0.16">the Training Set</text>
<line x1="103.5" y1="231.6" x2="136.8" y2="231.6" stroke="#444" stroke-width="0.45"/>
<line x1="103.8" y1="231.6" x2="98.4" y2="252.8" stroke="#333" stroke-width="0.45"/>
<line x1="68" y1="281.3" x2="98.2" y2="281.3" stroke="#444" stroke-width="0.45"/>
<line x1="98.2" y1="281.3" x2="101.7" y2="263" stroke="#333" stroke-width="0.45"/>
<line x1="98.2" y1="281.3" x2="105.5" y2="258.6" stroke="#333" stroke-width="0.45"/>
<line x1="98.2" y1="281.3" x2="111.1" y2="259.9" stroke="#333" stroke-width="0.45"/>
<text x="94.1" y="252.6" font-family='"Liberation Sans", sans-serif' font-size="3.6" font-weight="bold" font-style="normal" fill="#222" text-anchor="middle">A</text>
<text x="97.8" y="263.6" font-family='"Liberation Sans", sans-serif' font-size="3.6" font-weight="bold" font-style="normal" fill="#222" text-anchor="middle">B</text>
<text x="105.2" y="255.7" font-family='"Liberation Sans", sans-serif' font-size="3.6" font-weight="bold" font-style="normal" fill="#222" text-anchor="middle">C</text>
<text x="110.9" y="256.8" font-family='"Liberation Sans", sans-serif' font-size="3.6" font-weight="bold" font-style="normal" fill="#222" text-anchor="middle">D</text>
<rect x="219" y="249.1" width="4.4" height="6.89" fill="#d41a22"/>
<rect x="219" y="255.69" width="4.4" height="6.89" fill="#ec7a1e"/>
<rect x="219" y="262.28" width="4.4" height="6.89" fill="#eede1e"/>
<rect x="219" y="268.87" width="4.4" height="6.89" fill="#a4e046"/>
<rect x="219" y="275.46" width="4.4" height="6.89" fill="#46e0a2"/>
<rect x="219" y="282.04" width="4.4" height="6.89" fill="#28d0f0"/>
<rect x="219" y="288.63" width="4.4" height="6.89" fill="#2490ee"/>
<rect x="219" y="295.22" width="4.4" height="6.89" fill="#2244e0"/>
<rect x="219" y="301.81" width="4.4" height="6.89" fill="#1e22a8"/>
<polygon points="414.7,281 342.4,318.9 338.2,240.6 414.7,210.1" fill="#f3f3f3" stroke="none" stroke-width="1"/>
<polygon points="414.7,281 472,310.6 477.8,235.6 414.7,210.1" fill="#f3f3f3" stroke="none" stroke-width="1"/>
<polygon points="414.7,281 342.4,318.9 401.5,352.8 472,310.6" fill="#efefef" stroke="none" stroke-width="1"/>
<line x1="411.92" y1="282.46" x2="411.76" y2="211.27" stroke="#e3e3e3" stroke-width="0.35"/>
<line x1="414.7" y1="278.27" x2="342.24" y2="315.89" stroke="#e3e3e3" stroke-width="0.35"/>
<line x1="416.9" y1="282.14" x2="417.13" y2="211.08" stroke="#e3e3e3" stroke-width="0.35"/>
<line x1="414.7" y1="278.27" x2="472.22" y2="307.72" stroke="#e3e3e3" stroke-width="0.35"/>
<line x1="411.92" y1="282.46" x2="469.29" y2="312.22" stroke="#e3e3e3" stroke-width="0.35"/>
<line x1="416.9" y1="282.14" x2="344.67" y2="320.2" stroke="#e3e3e3" stroke-width="0.35"/>
<line x1="409.14" y1="283.92" x2="408.82" y2="212.45" stroke="#e3e3e3" stroke-width="0.35"/>
<line x1="414.7" y1="275.55" x2="342.08" y2="312.88" stroke="#e3e3e3" stroke-width="0.35"/>
<line x1="419.11" y1="283.28" x2="419.55" y2="212.06" stroke="#e3e3e3" stroke-width="0.35"/>
<line x1="414.7" y1="275.55" x2="472.45" y2="304.83" stroke="#e3e3e3" stroke-width="0.35"/>
<line x1="409.14" y1="283.92" x2="466.58" y2="313.85" stroke="#e3e3e3" stroke-width="0.35"/>
<line x1="419.11" y1="283.28" x2="346.95" y2="321.51" stroke="#e3e3e3" stroke-width="0.35"/>
<line x1="406.36" y1="285.37" x2="405.87" y2="213.62" stroke="#e3e3e3" stroke-width="0.35"/>
<line x1="414.7" y1="272.82" x2="341.92" y2="309.87" stroke="#e3e3e3" stroke-width="0.35"/>
<line x1="421.31" y1="284.42" x2="421.98" y2="213.04" stroke="#e3e3e3" stroke-width="0.35"/>
<line x1="414.7" y1="272.82" x2="472.67" y2="301.95" stroke="#e3e3e3" stroke-width="0.35"/>
<line x1="406.36" y1="285.37" x2="463.87" y2="315.47" stroke="#e3e3e3" stroke-width="0.35"/>
<line x1="421.31" y1="284.42" x2="349.22" y2="322.81" stroke="#e3e3e3" stroke-width="0.35"/>
<line x1="403.58" y1="286.83" x2="402.93" y2="214.79" stroke="#e3e3e3" stroke-width="0.35"/>
<line x1="414.7" y1="270.09" x2="341.75" y2="306.85" stroke="#e3e3e3" stroke-width="0.35"/>
<line x1="423.52" y1="285.55" x2="424.41" y2="214.02" stroke="#e3e3e3" stroke-width="0.35"/>
<line x1="414.7" y1="270.09" x2="472.89" y2="299.06" stroke="#e3e3e3" stroke-width="0.35"/>
<line x1="403.58" y1="286.83" x2="461.15" y2="317.09" stroke="#e3e3e3" stroke-width="0.35"/>
<line x1="423.52" y1="285.55" x2="351.49" y2="324.12" stroke="#e3e3e3" stroke-width="0.35"/>
<line x1="400.8" y1="288.29" x2="399.99" y2="215.97" stroke="#e3e3e3" stroke-width="0.35"/>
<line x1="414.7" y1="267.37" x2="341.59" y2="303.84" stroke="#e3e3e3" stroke-width="0.35"/>
<line x1="425.72" y1="286.69" x2="426.83" y2="215" stroke="#e3e3e3" stroke-width="0.35"/>
<line x1="414.7" y1="267.37" x2="473.12" y2="296.18" stroke="#e3e3e3" stroke-width="0.35"/>
<line x1="400.8" y1="288.29" x2="458.44" y2="318.72" stroke="#e3e3e3" stroke-width="0.35"/>
<line x1="425.72" y1="286.69" x2="353.77" y2="325.42" stroke="#e3e3e3" stroke-width="0.35"/>
<line x1="398.02" y1="289.75" x2="397.05" y2="217.14" stroke="#e3e3e3" stroke-width="0.35"/>
<line x1="414.7" y1="264.64" x2="341.43" y2="300.83" stroke="#e3e3e3" stroke-width="0.35"/>
<line x1="427.92" y1="287.83" x2="429.26" y2="215.98" stroke="#e3e3e3" stroke-width="0.35"/>
<line x1="414.7" y1="264.64" x2="473.34" y2="293.29" stroke="#e3e3e3" stroke-width="0.35"/>
<line x1="398.02" y1="289.75" x2="455.73" y2="320.34" stroke="#e3e3e3" stroke-width="0.35"/>
<line x1="427.92" y1="287.83" x2="356.04" y2="326.72" stroke="#e3e3e3" stroke-width="0.35"/>
<line x1="395.23" y1="291.2" x2="394.1" y2="218.31" stroke="#e3e3e3" stroke-width="0.35"/>
<line x1="414.7" y1="261.91" x2="341.27" y2="297.82" stroke="#e3e3e3" stroke-width="0.35"/>
<line x1="430.13" y1="288.97" x2="431.69" y2="216.97" stroke="#e3e3e3" stroke-width="0.35"/>
<line x1="414.7" y1="261.91" x2="473.56" y2="290.41" stroke="#e3e3e3" stroke-width="0.35"/>
<line x1="395.23" y1="291.2" x2="453.02" y2="321.96" stroke="#e3e3e3" stroke-width="0.35"/>
<line x1="430.13" y1="288.97" x2="358.31" y2="328.03" stroke="#e3e3e3" stroke-width="0.35"/>
<line x1="392.45" y1="292.66" x2="391.16" y2="219.48" stroke="#e3e3e3" stroke-width="0.35"/>
<line x1="414.7" y1="259.18" x2="341.11" y2="294.81" stroke="#e3e3e3" stroke-width="0.35"/>
<line x1="432.33" y1="290.11" x2="434.12" y2="217.95" stroke="#e3e3e3" stroke-width="0.35"/>
<line x1="414.7" y1="259.18" x2="473.78" y2="287.52" stroke="#e3e3e3" stroke-width="0.35"/>
<line x1="392.45" y1="292.66" x2="450.31" y2="323.58" stroke="#e3e3e3" stroke-width="0.35"/>
<line x1="432.33" y1="290.11" x2="360.58" y2="329.33" stroke="#e3e3e3" stroke-width="0.35"/>
<line x1="389.67" y1="294.12" x2="388.22" y2="220.66" stroke="#e3e3e3" stroke-width="0.35"/>
<line x1="414.7" y1="256.46" x2="340.95" y2="291.8" stroke="#e3e3e3" stroke-width="0.35"/>
<line x1="434.53" y1="291.25" x2="436.54" y2="218.93" stroke="#e3e3e3" stroke-width="0.35"/>
<line x1="414.7" y1="256.46" x2="474.01" y2="284.64" stroke="#e3e3e3" stroke-width="0.35"/>
<line x1="389.67" y1="294.12" x2="447.6" y2="325.21" stroke="#e3e3e3" stroke-width="0.35"/>
<line x1="434.53" y1="291.25" x2="362.86" y2="330.63" stroke="#e3e3e3" stroke-width="0.35"/>
<line x1="386.89" y1="295.58" x2="385.28" y2="221.83" stroke="#e3e3e3" stroke-width="0.35"/>
<line x1="414.7" y1="253.73" x2="340.78" y2="288.78" stroke="#e3e3e3" stroke-width="0.35"/>
<line x1="436.74" y1="292.38" x2="438.97" y2="219.91" stroke="#e3e3e3" stroke-width="0.35"/>
<line x1="414.7" y1="253.73" x2="474.23" y2="281.75" stroke="#e3e3e3" stroke-width="0.35"/>
<line x1="386.89" y1="295.58" x2="444.88" y2="326.83" stroke="#e3e3e3" stroke-width="0.35"/>
<line x1="436.74" y1="292.38" x2="365.13" y2="331.94" stroke="#e3e3e3" stroke-width="0.35"/>
<line x1="384.11" y1="297.03" x2="382.33" y2="223" stroke="#e3e3e3" stroke-width="0.35"/>
<line x1="414.7" y1="251" x2="340.62" y2="285.77" stroke="#e3e3e3" stroke-width="0.35"/>
<line x1="438.94" y1="293.52" x2="441.4" y2="220.89" stroke="#e3e3e3" stroke-width="0.35"/>
<line x1="414.7" y1="251" x2="474.45" y2="278.87" stroke="#e3e3e3" stroke-width="0.35"/>
<line x1="384.11" y1="297.03" x2="442.17" y2="328.45" stroke="#e3e3e3" stroke-width="0.35"/>
<line x1="438.94" y1="293.52" x2="367.4" y2="333.24" stroke="#e3e3e3" stroke-width="0.35"/>
<line x1="381.33" y1="298.49" x2="379.39" y2="224.18" stroke="#e3e3e3" stroke-width="0.35"/>
<line x1="414.7" y1="248.28" x2="340.46" y2="282.76" stroke="#e3e3e3" stroke-width="0.35"/>
<line x1="441.15" y1="294.66" x2="443.82" y2="221.87" stroke="#e3e3e3" stroke-width="0.35"/>
<line x1="414.7" y1="248.28" x2="474.68" y2="275.98" stroke="#e3e3e3" stroke-width="0.35"/>
<line x1="381.33" y1="298.49" x2="439.46" y2="330.08" stroke="#e3e3e3" stroke-width="0.35"/>
<line x1="441.15" y1="294.66" x2="369.68" y2="334.55" stroke="#e3e3e3" stroke-width="0.35"/>
<line x1="378.55" y1="299.95" x2="376.45" y2="225.35" stroke="#e3e3e3" stroke-width="0.35"/>
<line x1="414.7" y1="245.55" x2="340.3" y2="279.75" stroke="#e3e3e3" stroke-width="0.35"/>
<line x1="443.35" y1="295.8" x2="446.25" y2="222.85" stroke="#e3e3e3" stroke-width="0.35"/>
<line x1="414.7" y1="245.55" x2="474.9" y2="273.1" stroke="#e3e3e3" stroke-width="0.35"/>
<line x1="378.55" y1="299.95" x2="436.75" y2="331.7" stroke="#e3e3e3" stroke-width="0.35"/>
<line x1="443.35" y1="295.8" x2="371.95" y2="335.85" stroke="#e3e3e3" stroke-width="0.35"/>
<line x1="375.77" y1="301.41" x2="373.51" y2="226.52" stroke="#e3e3e3" stroke-width="0.35"/>
<line x1="414.7" y1="242.82" x2="340.14" y2="276.74" stroke="#e3e3e3" stroke-width="0.35"/>
<line x1="445.55" y1="296.94" x2="448.68" y2="223.83" stroke="#e3e3e3" stroke-width="0.35"/>
<line x1="414.7" y1="242.82" x2="475.12" y2="270.22" stroke="#e3e3e3" stroke-width="0.35"/>
<line x1="375.77" y1="301.41" x2="434.04" y2="333.32" stroke="#e3e3e3" stroke-width="0.35"/>
<line x1="445.55" y1="296.94" x2="374.22" y2="337.15" stroke="#e3e3e3" stroke-width="0.35"/>
<line x1="372.99" y1="302.87" x2="370.57" y2="227.7" stroke="#e3e3e3" stroke-width="0.35"/>
<line x1="414.7" y1="240.1" x2="339.98" y2="273.73" stroke="#e3e3e3" stroke-width="0.35"/>
<line x1="447.76" y1="298.08" x2="451.1" y2="224.81" stroke="#e3e3e3" stroke-width="0.35"/>
<line x1="414.7" y1="240.1" x2="475.35" y2="267.33" stroke="#e3e3e3" stroke-width="0.35"/>
<line x1="372.99" y1="302.87" x2="431.33" y2="334.95" stroke="#e3e3e3" stroke-width="0.35"/>
<line x1="447.76" y1="298.08" x2="376.5" y2="338.46" stroke="#e3e3e3" stroke-width="0.35"/>
<line x1="370.21" y1="304.32" x2="367.62" y2="228.87" stroke="#e3e3e3" stroke-width="0.35"/>
<line x1="414.7" y1="237.37" x2="339.82" y2="270.72" stroke="#e3e3e3" stroke-width="0.35"/>
<line x1="449.96" y1="299.22" x2="453.53" y2="225.79" stroke="#e3e3e3" stroke-width="0.35"/>
<line x1="414.7" y1="237.37" x2="475.57" y2="264.45" stroke="#e3e3e3" stroke-width="0.35"/>
<line x1="370.21" y1="304.32" x2="428.62" y2="336.57" stroke="#e3e3e3" stroke-width="0.35"/>
<line x1="449.96" y1="299.22" x2="378.77" y2="339.76" stroke="#e3e3e3" stroke-width="0.35"/>
<line x1="367.43" y1="305.78" x2="364.68" y2="230.04" stroke="#e3e3e3" stroke-width="0.35"/>
<line x1="414.7" y1="234.64" x2="339.65" y2="267.7" stroke="#e3e3e3" stroke-width="0.35"/>
<line x1="452.17" y1="300.35" x2="455.96" y2="226.77" stroke="#e3e3e3" stroke-width="0.35"/>
<line x1="414.7" y1="234.64" x2="475.79" y2="261.56" stroke="#e3e3e3" stroke-width="0.35"/>
<line x1="367.43" y1="305.78" x2="425.9" y2="338.19" stroke="#e3e3e3" stroke-width="0.35"/>
<line x1="452.17" y1="300.35" x2="381.04" y2="341.07" stroke="#e3e3e3" stroke-width="0.35"/>
<line x1="364.65" y1="307.24" x2="361.74" y2="231.22" stroke="#e3e3e3" stroke-width="0.35"/>
<line x1="414.7" y1="231.92" x2="339.49" y2="264.69" stroke="#e3e3e3" stroke-width="0.35"/>
<line x1="454.37" y1="301.49" x2="458.38" y2="227.75" stroke="#e3e3e3" stroke-width="0.35"/>
<line x1="414.7" y1="231.92" x2="476.02" y2="258.68" stroke="#e3e3e3" stroke-width="0.35"/>
<line x1="364.65" y1="307.24" x2="423.19" y2="339.82" stroke="#e3e3e3" stroke-width="0.35"/>
<line x1="454.37" y1="301.49" x2="383.32" y2="342.37" stroke="#e3e3e3" stroke-width="0.35"/>
<line x1="361.87" y1="308.7" x2="358.8" y2="232.39" stroke="#e3e3e3" stroke-width="0.35"/>
<line x1="414.7" y1="229.19" x2="339.33" y2="261.68" stroke="#e3e3e3" stroke-width="0.35"/>
<line x1="456.57" y1="302.63" x2="460.81" y2="228.73" stroke="#e3e3e3" stroke-width="0.35"/>
<line x1="414.7" y1="229.19" x2="476.24" y2="255.79" stroke="#e3e3e3" stroke-width="0.35"/>
<line x1="361.87" y1="308.7" x2="420.48" y2="341.44" stroke="#e3e3e3" stroke-width="0.35"/>
<line x1="456.57" y1="302.63" x2="385.59" y2="343.67" stroke="#e3e3e3" stroke-width="0.35"/>
<line x1="359.08" y1="310.15" x2="355.85" y2="233.56" stroke="#e3e3e3" stroke-width="0.35"/>
<line x1="414.7" y1="226.46" x2="339.17" y2="258.67" stroke="#e3e3e3" stroke-width="0.35"/>
<line x1="458.78" y1="303.77" x2="463.24" y2="229.72" stroke="#e3e3e3" stroke-width="0.35"/>
<line x1="414.7" y1="226.46" x2="476.46" y2="252.91" stroke="#e3e3e3" stroke-width="0.35"/>
<line x1="359.08" y1="310.15" x2="417.77" y2="343.06" stroke="#e3e3e3" stroke-width="0.35"/>
<line x1="458.78" y1="303.77" x2="387.86" y2="344.98" stroke="#e3e3e3" stroke-width="0.35"/>
<line x1="356.3" y1="311.61" x2="352.91" y2="234.73" stroke="#e3e3e3" stroke-width="0.35"/>
<line x1="414.7" y1="223.73" x2="339.01" y2="255.66" stroke="#e3e3e3" stroke-width="0.35"/>
<line x1="460.98" y1="304.91" x2="465.67" y2="230.7" stroke="#e3e3e3" stroke-width="0.35"/>
<line x1="414.7" y1="223.73" x2="476.68" y2="250.02" stroke="#e3e3e3" stroke-width="0.35"/>
<line x1="356.3" y1="311.61" x2="415.06" y2="344.68" stroke="#e3e3e3" stroke-width="0.35"/>
<line x1="460.98" y1="304.91" x2="390.13" y2="346.28" stroke="#e3e3e3" stroke-width="0.35"/>
<line x1="353.52" y1="313.07" x2="349.97" y2="235.91" stroke="#e3e3e3" stroke-width="0.35"/>
<line x1="414.7" y1="221.01" x2="338.85" y2="252.65" stroke="#e3e3e3" stroke-width="0.35"/>
<line x1="463.18" y1="306.05" x2="468.09" y2="231.68" stroke="#e3e3e3" stroke-width="0.35"/>
<line x1="414.7" y1="221.01" x2="476.91" y2="247.14" stroke="#e3e3e3" stroke-width="0.35"/>
<line x1="353.52" y1="313.07" x2="412.35" y2="346.31" stroke="#e3e3e3" stroke-width="0.35"/>
<line x1="463.18" y1="306.05" x2="392.41" y2="347.58" stroke="#e3e3e3" stroke-width="0.35"/>
<line x1="350.74" y1="314.53" x2="347.03" y2="237.08" stroke="#e3e3e3" stroke-width="0.35"/>
<line x1="414.7" y1="218.28" x2="338.68" y2="249.63" stroke="#e3e3e3" stroke-width="0.35"/>
<line x1="465.39" y1="307.18" x2="470.52" y2="232.66" stroke="#e3e3e3" stroke-width="0.35"/>
<line x1="414.7" y1="218.28" x2="477.13" y2="244.25" stroke="#e3e3e3" stroke-width="0.35"/>
<line x1="350.74" y1="314.53" x2="409.63" y2="347.93" stroke="#e3e3e3" stroke-width="0.35"/>
<line x1="465.39" y1="307.18" x2="394.68" y2="348.89" stroke="#e3e3e3" stroke-width="0.35"/>
<line x1="347.96" y1="315.98" x2="344.08" y2="238.25" stroke="#e3e3e3" stroke-width="0.35"/>
<line x1="414.7" y1="215.55" x2="338.52" y2="246.62" stroke="#e3e3e3" stroke-width="0.35"/>
<line x1="467.59" y1="308.32" x2="472.95" y2="233.64" stroke="#e3e3e3" stroke-width="0.35"/>
<line x1="414.7" y1="215.55" x2="477.35" y2="241.37" stroke="#e3e3e3" stroke-width="0.35"/>
<line x1="347.96" y1="315.98" x2="406.92" y2="349.55" stroke="#e3e3e3" stroke-width="0.35"/>
<line x1="467.59" y1="308.32" x2="396.95" y2="350.19" stroke="#e3e3e3" stroke-width="0.35"/>
<line x1="345.18" y1="317.44" x2="341.14" y2="239.43" stroke="#e3e3e3" stroke-width="0.35"/>
<line x1="414.7" y1="212.83" x2="338.36" y2="243.61" stroke="#e3e3e3" stroke-width="0.35"/>
<line x1="469.8" y1="309.46" x2="475.37" y2="234.62" stroke="#e3e3e3" stroke-width="0.35"/>
<line x1="414.7" y1="212.83" x2="477.58" y2="238.48" stroke="#e3e3e3" stroke-width="0.35"/>
<line x1="345.18" y1="317.44" x2="404.21" y2="351.18" stroke="#e3e3e3" stroke-width="0.35"/>
<line x1="469.8" y1="309.46" x2="399.23" y2="351.5" stroke="#e3e3e3" stroke-width="0.35"/>
<line x1="414.7" y1="266.82" x2="341.56" y2="303.24" stroke="#d4d4d4" stroke-width="0.55"/>
<line x1="414.7" y1="266.82" x2="473.16" y2="295.6" stroke="#d4d4d4" stroke-width="0.55"/>
<line x1="400.24" y1="288.58" x2="457.9" y2="319.04" stroke="#d4d4d4" stroke-width="0.55"/>
<line x1="426.16" y1="286.92" x2="354.22" y2="325.68" stroke="#d4d4d4" stroke-width="0.55"/>
<line x1="400.24" y1="288.58" x2="399.4" y2="216.2" stroke="#d4d4d4" stroke-width="0.55"/>
<line x1="426.16" y1="286.92" x2="427.32" y2="215.2" stroke="#d4d4d4" stroke-width="0.55"/>
<line x1="414.7" y1="252.64" x2="340.72" y2="287.58" stroke="#d4d4d4" stroke-width="0.55"/>
<line x1="414.7" y1="252.64" x2="474.32" y2="280.6" stroke="#d4d4d4" stroke-width="0.55"/>
<line x1="385.78" y1="296.16" x2="443.8" y2="327.48" stroke="#d4d4d4" stroke-width="0.55"/>
<line x1="437.62" y1="292.84" x2="366.04" y2="332.46" stroke="#d4d4d4" stroke-width="0.55"/>
<line x1="385.78" y1="296.16" x2="384.1" y2="222.3" stroke="#d4d4d4" stroke-width="0.55"/>
<line x1="437.62" y1="292.84" x2="439.94" y2="220.3" stroke="#d4d4d4" stroke-width="0.55"/>
<line x1="414.7" y1="238.46" x2="339.88" y2="271.92" stroke="#d4d4d4" stroke-width="0.55"/>
<line x1="414.7" y1="238.46" x2="475.48" y2="265.6" stroke="#d4d4d4" stroke-width="0.55"/>
<line x1="371.32" y1="303.74" x2="429.7" y2="335.92" stroke="#d4d4d4" stroke-width="0.55"/>
<line x1="449.08" y1="298.76" x2="377.86" y2="339.24" stroke="#d4d4d4" stroke-width="0.55"/>
<line x1="371.32" y1="303.74" x2="368.8" y2="228.4" stroke="#d4d4d4" stroke-width="0.55"/>
<line x1="449.08" y1="298.76" x2="452.56" y2="225.4" stroke="#d4d4d4" stroke-width="0.55"/>
<line x1="414.7" y1="224.28" x2="339.04" y2="256.26" stroke="#d4d4d4" stroke-width="0.55"/>
<line x1="414.7" y1="224.28" x2="476.64" y2="250.6" stroke="#d4d4d4" stroke-width="0.55"/>
<line x1="356.86" y1="311.32" x2="415.6" y2="344.36" stroke="#d4d4d4" stroke-width="0.55"/>
<line x1="460.54" y1="304.68" x2="389.68" y2="346.02" stroke="#d4d4d4" stroke-width="0.55"/>
<line x1="356.86" y1="311.32" x2="353.5" y2="234.5" stroke="#d4d4d4" stroke-width="0.55"/>
<line x1="460.54" y1="304.68" x2="465.18" y2="230.5" stroke="#d4d4d4" stroke-width="0.55"/>
<line x1="414.7" y1="210.1" x2="414.7" y2="281" stroke="#b8b8b8" stroke-width="0.7"/>
<line x1="414.7" y1="281" x2="342.4" y2="318.9" stroke="#b8b8b8" stroke-width="0.7"/>
<line x1="414.7" y1="281" x2="472" y2="310.6" stroke="#b8b8b8" stroke-width="0.7"/>
<circle cx="406.29" cy="238.42" r="1.85" fill="url(#g_red)" stroke="none" stroke-width="0.8"/>
<circle cx="417.82" cy="238.35" r="1.85" fill="url(#g_red)" stroke="none" stroke-width="0.8"/>
<circle cx="424.93" cy="240.85" r="1.85" fill="url(#g_red)" stroke="none" stroke-width="0.8"/>
<circle cx="430.3" cy="242.77" r="1.85" fill="url(#g_red)" stroke="none" stroke-width="0.8"/>
<circle cx="438.95" cy="244.08" r="1.85" fill="url(#g_red)" stroke="none" stroke-width="0.8"/>
<circle cx="444.15" cy="241.5" r="1.85" fill="url(#g_red)" stroke="none" stroke-width="0.8"/>
<circle cx="396.66" cy="244.37" r="1.85" fill="url(#g_red)" stroke="none" stroke-width="0.8"/>
<circle cx="403" cy="244.91" r="1.85" fill="url(#g_red)" stroke="none" stroke-width="0.8"/>
<circle cx="411.08" cy="244.27" r="1.85" fill="url(#g_red)" stroke="none" stroke-width="0.8"/>
<circle cx="422.42" cy="244.78" r="1.85" fill="url(#g_red)" stroke="none" stroke-width="0.8"/>
<circle cx="399.53" cy="249.24" r="1.85" fill="url(#g_red)" stroke="none" stroke-width="0.8"/>
<circle cx="435.1" cy="247.04" r="1.85" fill="url(#g_red)" stroke="none" stroke-width="0.8"/>
<circle cx="440.86" cy="248.96" r="1.85" fill="url(#g_red)" stroke="none" stroke-width="0.8"/>
<circle cx="446.06" cy="246.58" r="1.85" fill="url(#g_red)" stroke="none" stroke-width="0.8"/>
<circle cx="446.05" cy="249.42" r="1.85" fill="url(#g_red)" stroke="none" stroke-width="0.8"/>
<circle cx="437.01" cy="251.34" r="1.85" fill="url(#g_red)" stroke="none" stroke-width="0.8"/>
<circle cx="433.73" cy="253.32" r="1.85" fill="url(#g_red)" stroke="none" stroke-width="0.8"/>
<circle cx="442.78" cy="250.52" r="1.85" fill="url(#g_red)" stroke="none" stroke-width="0.8"/>
<circle cx="435.56" cy="253.89" r="1.85" fill="url(#g_red)" stroke="none" stroke-width="0.8"/>
<circle cx="405.95" cy="257.52" r="1.85" fill="url(#g_org)" stroke="none" stroke-width="0.8"/>
<circle cx="411.05" cy="255.53" r="1.85" fill="url(#g_org)" stroke="none" stroke-width="0.8"/>
<circle cx="418.74" cy="254.01" r="1.85" fill="url(#g_org)" stroke="none" stroke-width="0.8"/>
<circle cx="425.08" cy="255.43" r="1.85" fill="url(#g_org)" stroke="none" stroke-width="0.8"/>
<circle cx="431.23" cy="254.9" r="1.85" fill="url(#g_org)" stroke="none" stroke-width="0.8"/>
<circle cx="436.32" cy="256.63" r="1.85" fill="url(#g_org)" stroke="none" stroke-width="0.8"/>
<circle cx="440.07" cy="256.41" r="1.85" fill="url(#g_org)" stroke="none" stroke-width="0.8"/>
<circle cx="444.2" cy="257.56" r="1.85" fill="url(#g_org)" stroke="none" stroke-width="0.8"/>
<circle cx="449.49" cy="254.58" r="1.85" fill="url(#g_org)" stroke="none" stroke-width="0.8"/>
<circle cx="455.45" cy="256.31" r="1.85" fill="url(#g_org)" stroke="none" stroke-width="0.8"/>
<circle cx="458.43" cy="253.15" r="1.85" fill="url(#g_org)" stroke="none" stroke-width="0.8"/>
<circle cx="464.49" cy="253.11" r="1.85" fill="url(#g_org)" stroke="none" stroke-width="0.8"/>
<circle cx="468.23" cy="254.85" r="1.85" fill="url(#g_org)" stroke="none" stroke-width="0.8"/>
<circle cx="390.85" cy="261.74" r="1.85" fill="url(#g_org)" stroke="none" stroke-width="0.8"/>
<circle cx="424.77" cy="260.82" r="1.85" fill="url(#g_org)" stroke="none" stroke-width="0.8"/>
<circle cx="430.06" cy="260.1" r="1.85" fill="url(#g_org)" stroke="none" stroke-width="0.8"/>
<circle cx="435.06" cy="258.6" r="1.85" fill="url(#g_org)" stroke="none" stroke-width="0.8"/>
<circle cx="455.24" cy="260.62" r="1.85" fill="url(#g_org)" stroke="none" stroke-width="0.8"/>
<circle cx="461.88" cy="259.3" r="1.85" fill="url(#g_org)" stroke="none" stroke-width="0.8"/>
<circle cx="467.25" cy="263.08" r="1.85" fill="url(#g_org)" stroke="none" stroke-width="0.8"/>
<circle cx="399.49" cy="265.5" r="1.85" fill="url(#g_yel)" stroke="none" stroke-width="0.8"/>
<circle cx="409.48" cy="265.43" r="1.85" fill="url(#g_yel)" stroke="none" stroke-width="0.8"/>
<circle cx="429.28" cy="265.98" r="1.85" fill="url(#g_yel)" stroke="none" stroke-width="0.8"/>
<circle cx="438.69" cy="268.27" r="1.85" fill="url(#g_yel)" stroke="none" stroke-width="0.8"/>
<circle cx="449.08" cy="266.04" r="1.85" fill="url(#g_yel)" stroke="none" stroke-width="0.8"/>
<circle cx="455.32" cy="266.1" r="1.85" fill="url(#g_yel)" stroke="none" stroke-width="0.8"/>
<circle cx="391.02" cy="268.88" r="1.85" fill="url(#g_yel)" stroke="none" stroke-width="0.8"/>
<circle cx="403.32" cy="268.8" r="1.85" fill="url(#g_yel)" stroke="none" stroke-width="0.8"/>
<circle cx="393.7" cy="272.39" r="1.85" fill="url(#g_yel)" stroke="none" stroke-width="0.8"/>
<circle cx="399.66" cy="271.76" r="1.85" fill="url(#g_yel)" stroke="none" stroke-width="0.8"/>
<circle cx="410.03" cy="274.63" r="1.85" fill="url(#g_yel)" stroke="none" stroke-width="0.8"/>
<circle cx="411.96" cy="271.68" r="1.85" fill="url(#g_yel)" stroke="none" stroke-width="0.8"/>
<circle cx="423.5" cy="271.01" r="1.85" fill="url(#g_yel)" stroke="none" stroke-width="0.8"/>
<circle cx="429.07" cy="272.94" r="1.85" fill="url(#g_yel)" stroke="none" stroke-width="0.8"/>
<circle cx="460.71" cy="263.32" r="1.85" fill="url(#g_yel)" stroke="none" stroke-width="0.8"/>
<circle cx="463.11" cy="265.46" r="1.85" fill="url(#g_yel)" stroke="none" stroke-width="0.8"/>
<circle cx="462.81" cy="267.62" r="1.85" fill="url(#g_yel)" stroke="none" stroke-width="0.8"/>
<circle cx="464.44" cy="270.54" r="1.85" fill="url(#g_yel)" stroke="none" stroke-width="0.8"/>
<circle cx="457.13" cy="270.79" r="1.85" fill="url(#g_yg)" stroke="none" stroke-width="0.8"/>
<circle cx="459.06" cy="270.38" r="1.85" fill="url(#g_yg)" stroke="none" stroke-width="0.8"/>
<circle cx="460.7" cy="268.22" r="1.85" fill="url(#g_yg)" stroke="none" stroke-width="0.8"/>
<circle cx="456.46" cy="270.89" r="1.85" fill="url(#g_yg)" stroke="none" stroke-width="0.8"/>
<circle cx="399.06" cy="278.23" r="1.85" fill="url(#g_lg)" stroke="none" stroke-width="0.8"/>
<circle cx="406.17" cy="278.97" r="1.85" fill="url(#g_lg)" stroke="none" stroke-width="0.8"/>
<circle cx="414.83" cy="278.52" r="1.85" fill="url(#g_lg)" stroke="none" stroke-width="0.8"/>
<circle cx="417.13" cy="280.85" r="1.85" fill="url(#g_lg)" stroke="none" stroke-width="0.8"/>
<circle cx="425.39" cy="280.01" r="1.85" fill="url(#g_lg)" stroke="none" stroke-width="0.8"/>
<circle cx="432.13" cy="278.01" r="1.85" fill="url(#g_lg)" stroke="none" stroke-width="0.8"/>
<circle cx="436.93" cy="277.97" r="1.85" fill="url(#g_lg)" stroke="none" stroke-width="0.8"/>
<circle cx="442.7" cy="277.94" r="1.85" fill="url(#g_lg)" stroke="none" stroke-width="0.8"/>
<circle cx="449.24" cy="275.35" r="1.85" fill="url(#g_lg)" stroke="none" stroke-width="0.8"/>
<circle cx="457.51" cy="275.49" r="1.85" fill="url(#g_lg)" stroke="none" stroke-width="0.8"/>
<circle cx="415.19" cy="285.37" r="1.85" fill="url(#g_grn)" stroke="none" stroke-width="0.8"/>
<circle cx="409.42" cy="286.78" r="1.85" fill="url(#g_grn)" stroke="none" stroke-width="0.8"/>
<circle cx="413.83" cy="289.29" r="1.85" fill="url(#g_grn)" stroke="none" stroke-width="0.8"/>
<circle cx="421.53" cy="288.26" r="1.85" fill="url(#g_grn)" stroke="none" stroke-width="0.8"/>
<circle cx="426.72" cy="286.66" r="1.85" fill="url(#g_grn)" stroke="none" stroke-width="0.8"/>
<circle cx="426.71" cy="290.19" r="1.85" fill="url(#g_grn)" stroke="none" stroke-width="0.8"/>
<circle cx="420.94" cy="291.2" r="1.85" fill="url(#g_grn)" stroke="none" stroke-width="0.8"/>
<circle cx="424.01" cy="291.77" r="1.85" fill="url(#g_grn)" stroke="none" stroke-width="0.8"/>
<circle cx="353.08" cy="295.09" r="1.85" fill="url(#g_grn)" stroke="none" stroke-width="0.8"/>
<circle cx="355.58" cy="292.53" r="1.85" fill="url(#g_teal)" stroke="none" stroke-width="0.8"/>
<circle cx="359.23" cy="293.77" r="1.85" fill="url(#g_teal)" stroke="none" stroke-width="0.8"/>
<circle cx="356.14" cy="298.4" r="1.85" fill="url(#g_teal)" stroke="none" stroke-width="0.8"/>
<circle cx="363.85" cy="291.78" r="1.85" fill="url(#g_teal)" stroke="none" stroke-width="0.8"/>
<circle cx="370.48" cy="292.72" r="1.85" fill="url(#g_teal)" stroke="none" stroke-width="0.8"/>
<circle cx="362.29" cy="298.94" r="1.85" fill="url(#g_teal)" stroke="none" stroke-width="0.8"/>
<circle cx="376.74" cy="289.54" r="1.85" fill="url(#g_teal)" stroke="none" stroke-width="0.8"/>
<circle cx="381.72" cy="293.43" r="1.85" fill="url(#g_teal)" stroke="none" stroke-width="0.8"/>
<circle cx="419.58" cy="296.5" r="1.85" fill="url(#g_teal)" stroke="none" stroke-width="0.8"/>
<circle cx="424.77" cy="298.03" r="1.85" fill="url(#g_teal)" stroke="none" stroke-width="0.8"/>
<circle cx="393.26" cy="290.02" r="1.85" fill="url(#g_cyan)" stroke="none" stroke-width="0.8"/>
<circle cx="399.42" cy="289.98" r="1.85" fill="url(#g_cyan)" stroke="none" stroke-width="0.8"/>
<circle cx="390.75" cy="294.35" r="1.85" fill="url(#g_cyan)" stroke="none" stroke-width="0.8"/>
<circle cx="396.52" cy="294.7" r="1.85" fill="url(#g_cyan)" stroke="none" stroke-width="0.8"/>
<circle cx="402.87" cy="293.28" r="1.85" fill="url(#g_cyan)" stroke="none" stroke-width="0.8"/>
<circle cx="409.01" cy="295.2" r="1.85" fill="url(#g_cyan)" stroke="none" stroke-width="0.8"/>
<circle cx="409.39" cy="298.14" r="1.85" fill="url(#g_cyan)" stroke="none" stroke-width="0.8"/>
<circle cx="414.78" cy="294.57" r="1.85" fill="url(#g_cyan)" stroke="none" stroke-width="0.8"/>
<circle cx="432.08" cy="295.63" r="1.85" fill="url(#g_cyan)" stroke="none" stroke-width="0.8"/>
<circle cx="443.62" cy="291.64" r="1.85" fill="url(#g_cyan)" stroke="none" stroke-width="0.8"/>
<circle cx="450.92" cy="292.37" r="1.85" fill="url(#g_cyan)" stroke="none" stroke-width="0.8"/>
<circle cx="457.06" cy="295.86" r="1.85" fill="url(#g_cyan)" stroke="none" stroke-width="0.8"/>
<circle cx="463.22" cy="292.29" r="1.85" fill="url(#g_cyan)" stroke="none" stroke-width="0.8"/>
<circle cx="467.63" cy="296.18" r="1.85" fill="url(#g_cyan)" stroke="none" stroke-width="0.8"/>
<circle cx="392.66" cy="300.21" r="1.85" fill="url(#g_blue)" stroke="none" stroke-width="0.8"/>
<circle cx="395.54" cy="300.19" r="1.85" fill="url(#g_blue)" stroke="none" stroke-width="0.8"/>
<circle cx="400.92" cy="301.72" r="1.85" fill="url(#g_blue)" stroke="none" stroke-width="0.8"/>
<circle cx="407.07" cy="303.05" r="1.85" fill="url(#g_blue)" stroke="none" stroke-width="0.8"/>
<circle cx="413.8" cy="302.42" r="1.85" fill="url(#g_blue)" stroke="none" stroke-width="0.8"/>
<circle cx="418.6" cy="303.95" r="1.85" fill="url(#g_blue)" stroke="none" stroke-width="0.8"/>
<circle cx="424.75" cy="302.93" r="1.85" fill="url(#g_blue)" stroke="none" stroke-width="0.8"/>
<circle cx="429.17" cy="302.9" r="1.85" fill="url(#g_blue)" stroke="none" stroke-width="0.8"/>
<circle cx="433.03" cy="299.54" r="1.85" fill="url(#g_blue)" stroke="none" stroke-width="0.8"/>
<circle cx="437.83" cy="299.9" r="1.85" fill="url(#g_blue)" stroke="none" stroke-width="0.8"/>
<circle cx="434.94" cy="303.45" r="1.85" fill="url(#g_blue)" stroke="none" stroke-width="0.8"/>
<circle cx="445.13" cy="301.42" r="1.85" fill="url(#g_blue)" stroke="none" stroke-width="0.8"/>
<circle cx="448.41" cy="295.91" r="1.85" fill="url(#g_blue)" stroke="none" stroke-width="0.8"/>
<circle cx="450.9" cy="299.81" r="1.85" fill="url(#g_blue)" stroke="none" stroke-width="0.8"/>
<circle cx="455.13" cy="299.79" r="1.85" fill="url(#g_blue)" stroke="none" stroke-width="0.8"/>
<circle cx="410.9" cy="305.96" r="1.85" fill="url(#g_blue)" stroke="none" stroke-width="0.8"/>
<circle cx="422.05" cy="306.86" r="1.85" fill="url(#g_blue)" stroke="none" stroke-width="0.8"/>
<circle cx="383.04" cy="303.21" r="1.85" fill="url(#g_blue)" stroke="none" stroke-width="0.8"/>
<circle cx="377.27" cy="304.62" r="1.85" fill="url(#g_blue)" stroke="none" stroke-width="0.8"/>
<circle cx="403.21" cy="308.95" r="1.85" fill="url(#g_blue)" stroke="none" stroke-width="0.8"/>
<circle cx="365.07" cy="301.18" r="1.85" fill="url(#g_blue)" stroke="none" stroke-width="0.8"/>
<circle cx="370.45" cy="301.63" r="1.85" fill="url(#g_blue)" stroke="none" stroke-width="0.8"/>
<circle cx="361.41" cy="306.2" r="1.85" fill="url(#g_blue)" stroke="none" stroke-width="0.8"/>
<circle cx="370.44" cy="306.13" r="1.85" fill="url(#g_blue)" stroke="none" stroke-width="0.8"/>
<circle cx="377.56" cy="304.81" r="1.85" fill="url(#g_blue)" stroke="none" stroke-width="0.8"/>
<circle cx="383.91" cy="302.32" r="1.85" fill="url(#g_blue)" stroke="none" stroke-width="0.8"/>
<circle cx="393.14" cy="301.87" r="1.85" fill="url(#g_blue)" stroke="none" stroke-width="0.8"/>
<circle cx="400.73" cy="301.43" r="1.85" fill="url(#g_blue)" stroke="none" stroke-width="0.8"/>
<circle cx="376.29" cy="311.09" r="1.85" fill="url(#g_dblue)" stroke="none" stroke-width="0.8"/>
<circle cx="379.18" cy="310.09" r="1.85" fill="url(#g_dblue)" stroke="none" stroke-width="0.8"/>
<circle cx="383.02" cy="310.06" r="1.85" fill="url(#g_dblue)" stroke="none" stroke-width="0.8"/>
<circle cx="385.9" cy="311.02" r="1.85" fill="url(#g_dblue)" stroke="none" stroke-width="0.8"/>
<circle cx="389.75" cy="309.04" r="1.85" fill="url(#g_dblue)" stroke="none" stroke-width="0.8"/>
<circle cx="393.6" cy="307.06" r="1.85" fill="url(#g_dblue)" stroke="none" stroke-width="0.8"/>
<circle cx="396.48" cy="309.97" r="1.85" fill="url(#g_dblue)" stroke="none" stroke-width="0.8"/>
<circle cx="388.78" cy="313.55" r="1.85" fill="url(#g_dblue)" stroke="none" stroke-width="0.8"/>
<circle cx="391.67" cy="310.01" r="1.85" fill="url(#g_dblue)" stroke="none" stroke-width="0.8"/>
<circle cx="372.64" cy="309.16" r="1.85" fill="url(#g_dblue)" stroke="none" stroke-width="0.8"/>
<circle cx="375.04" cy="311.39" r="1.85" fill="url(#g_dblue)" stroke="none" stroke-width="0.8"/>
<circle cx="378.7" cy="310.09" r="1.85" fill="url(#g_dblue)" stroke="none" stroke-width="0.8"/>
<circle cx="383.6" cy="309.08" r="1.85" fill="url(#g_dblue)" stroke="none" stroke-width="0.8"/>
<circle cx="386.67" cy="309.75" r="1.85" fill="url(#g_dblue)" stroke="none" stroke-width="0.8"/>
<circle cx="384.26" cy="311.92" r="1.85" fill="url(#g_dblue)" stroke="none" stroke-width="0.8"/>
<circle cx="388.49" cy="313.16" r="1.85" fill="url(#g_dblue)" stroke="none" stroke-width="0.8"/>
<circle cx="392.16" cy="306.87" r="1.85" fill="url(#g_dblue)" stroke="none" stroke-width="0.8"/>
<circle cx="395.81" cy="307.43" r="1.85" fill="url(#g_dblue)" stroke="none" stroke-width="0.8"/>
<circle cx="396.47" cy="311.25" r="1.85" fill="url(#g_dblue)" stroke="none" stroke-width="0.8"/>
<circle cx="399.55" cy="309.27" r="1.85" fill="url(#g_dblue)" stroke="none" stroke-width="0.8"/>
<circle cx="402.53" cy="308.66" r="1.85" fill="url(#g_dblue)" stroke="none" stroke-width="0.8"/>
<circle cx="382.05" cy="314.97" r="1.85" fill="url(#g_navy)" stroke="none" stroke-width="0.8"/>
<circle cx="384.93" cy="315.93" r="1.85" fill="url(#g_navy)" stroke="none" stroke-width="0.8"/>
<circle cx="390.31" cy="313.74" r="1.85" fill="url(#g_navy)" stroke="none" stroke-width="0.8"/>
<circle cx="382.33" cy="315.65" r="1.85" fill="url(#g_navy)" stroke="none" stroke-width="0.8"/>
<circle cx="384.25" cy="316.23" r="1.85" fill="url(#g_navy)" stroke="none" stroke-width="0.8"/>
<circle cx="389.73" cy="315.6" r="1.85" fill="url(#g_navy)" stroke="none" stroke-width="0.8"/>
<line x1="338.2" y1="240.6" x2="414.7" y2="210.1" stroke="#a6a6a6" stroke-width="1.8"/>
<line x1="414.7" y1="210.1" x2="477.8" y2="235.6" stroke="#a6a6a6" stroke-width="1.8"/>
<line x1="477.8" y1="235.6" x2="472" y2="310.6" stroke="#8a8a8a" stroke-width="1.6"/>
<line x1="338.2" y1="240.6" x2="342.4" y2="318.9" stroke="#3a3a3a" stroke-width="1.9"/>
<line x1="342.4" y1="318.9" x2="401.5" y2="352.8" stroke="#3a3a3a" stroke-width="1.9"/>
<line x1="401.5" y1="352.8" x2="472" y2="310.6" stroke="#3a3a3a" stroke-width="1.9"/>
<circle cx="342.4" cy="318.9" r="0.95" fill="#3a3a3a"/>
<circle cx="401.5" cy="352.8" r="0.95" fill="#3a3a3a"/>
<polygon points="414.7,278.87 348.07,313.54 402.4,344.38 467.58,305.99" fill="rgba(60,60,75,0.13)" stroke="rgba(115,115,255,0.62)" stroke-width="0.6" stroke-linejoin="round"/>
<polygon points="414.7,264.69 347.3,298 402.26,328.68 468.64,291.06" fill="rgba(60,60,75,0.13)" stroke="rgba(115,115,255,0.62)" stroke-width="0.6" stroke-linejoin="round"/>
<polygon points="414.7,250.51 346.52,282.45 402.11,312.98 469.71,276.12" fill="rgba(60,60,75,0.13)" stroke="rgba(115,115,255,0.62)" stroke-width="0.6" stroke-linejoin="round"/>
<polygon points="414.7,236.33 345.75,266.91 401.96,297.28 470.78,261.19" fill="rgba(60,60,75,0.13)" stroke="rgba(115,115,255,0.62)" stroke-width="0.6" stroke-linejoin="round"/>
<polygon points="414.7,222.86 345.02,252.15 401.83,282.37 471.79,247" fill="rgba(60,60,75,0.13)" stroke="rgba(115,115,255,0.62)" stroke-width="0.6" stroke-linejoin="round"/>
<polygon points="402.41,287.44 455.41,315.35 459.41,243.74 401.73,218.89" fill="rgba(60,60,75,0.13)" stroke="rgba(115,115,255,0.62)" stroke-width="0.6" stroke-linejoin="round"/>
<polygon points="387.59,295.21 440.92,323.93 443.65,251.51 386.09,225.22" fill="rgba(60,60,75,0.13)" stroke="rgba(115,115,255,0.62)" stroke-width="0.6" stroke-linejoin="round"/>
<polygon points="373.49,302.6 427.15,332.09 428.65,258.9 371.21,231.24" fill="rgba(60,60,75,0.13)" stroke="rgba(115,115,255,0.62)" stroke-width="0.6" stroke-linejoin="round"/>
<polygon points="358.31,310.56 412.31,340.88 412.5,266.85 355.19,237.72" fill="rgba(60,60,75,0.13)" stroke="rgba(115,115,255,0.62)" stroke-width="0.6" stroke-linejoin="round"/>
<polygon points="417.56,282.48 351.13,317.55 348.1,253.79 417.8,224.17" fill="rgba(60,60,75,0.13)" stroke="rgba(115,115,255,0.62)" stroke-width="0.6" stroke-linejoin="round"/>
<polygon points="430.17,288.99 364.1,324.93 361.69,261.02 431.46,229.95" fill="rgba(60,60,75,0.13)" stroke="rgba(115,115,255,0.62)" stroke-width="0.6" stroke-linejoin="round"/>
<polygon points="443.35,295.8 377.66,332.65 375.89,268.57 445.73,235.98" fill="rgba(60,60,75,0.13)" stroke="rgba(115,115,255,0.62)" stroke-width="0.6" stroke-linejoin="round"/>
<polygon points="456.53,302.61 391.22,340.36 390.09,276.12 460,242.02" fill="rgba(60,60,75,0.13)" stroke="rgba(115,115,255,0.62)" stroke-width="0.6" stroke-linejoin="round"/>
<text x="305.27" y="242.99" font-family='"Liberation Sans", sans-serif' font-size="4.4" font-weight="bold" font-style="normal" fill="#141414" text-anchor="start" textLength="31.14" lengthAdjust="spacingAndGlyphs" stroke="#141414" stroke-width="0.16">Strongly Extravert</text>
<text x="321.57" y="256.97" font-family='"Liberation Sans", sans-serif' font-size="4.4" font-weight="bold" font-style="normal" fill="#141414" text-anchor="start" textLength="15.09" lengthAdjust="spacingAndGlyphs" stroke="#141414" stroke-width="0.16">Extravert</text>
<text x="284.71" y="272.79" font-family='"Liberation Sans", sans-serif' font-size="4.4" font-weight="bold" font-style="normal" fill="#141414" text-anchor="start" textLength="52.76" lengthAdjust="spacingAndGlyphs" stroke="#141414" stroke-width="0.16">Neither Extravert Nor Introvert</text>
<text x="323.11" y="287.81" font-family='"Liberation Sans", sans-serif' font-size="4.4" font-weight="bold" font-style="normal" fill="#141414" text-anchor="start" textLength="14.8" lengthAdjust="spacingAndGlyphs" stroke="#141414" stroke-width="0.16">Introvert</text>
<text x="308.85" y="302.39" font-family='"Liberation Sans", sans-serif' font-size="4.4" font-weight="bold" font-style="normal" fill="#141414" text-anchor="start" textLength="30.56" lengthAdjust="spacingAndGlyphs" stroke="#141414" stroke-width="0.16">Strongly Introvert</text>
<text x="308.78" y="327.85" font-family='"Liberation Sans", sans-serif' font-size="4.4" font-weight="bold" font-style="normal" fill="#141414" text-anchor="start" textLength="44.5" lengthAdjust="spacingAndGlyphs" stroke="#141414" stroke-width="0.16">Strongly Unconscientious</text>
<text x="334.99" y="334.72" font-family='"Liberation Sans", sans-serif' font-size="4.4" font-weight="bold" font-style="normal" fill="#141414" text-anchor="start" textLength="29.31" lengthAdjust="spacingAndGlyphs" stroke="#141414" stroke-width="0.16">Unconscientious</text>
<text x="299.99" y="342.69" font-family='"Liberation Sans", sans-serif' font-size="4.4" font-weight="bold" font-style="normal" fill="#141414" text-anchor="start" textLength="76.89" lengthAdjust="spacingAndGlyphs" stroke="#141414" stroke-width="0.16">Neither Conscientious Nor Unconscientious</text>
<text x="362.24" y="349.91" font-family='"Liberation Sans", sans-serif' font-size="4.4" font-weight="bold" font-style="normal" fill="#141414" text-anchor="start" textLength="25.76" lengthAdjust="spacingAndGlyphs" stroke="#141414" stroke-width="0.16">Conscientious</text>
<text x="359.05" y="356.19" font-family='"Liberation Sans", sans-serif' font-size="4.4" font-weight="bold" font-style="normal" fill="#141414" text-anchor="start" textLength="40.85" lengthAdjust="spacingAndGlyphs" stroke="#141414" stroke-width="0.16">Strongly Conscientious</text>
<text x="475.68" y="316.97" font-family='"Liberation Sans", sans-serif' font-size="4.4" font-weight="bold" font-style="normal" fill="#141414" text-anchor="start" textLength="34.21" lengthAdjust="spacingAndGlyphs" stroke="#141414" stroke-width="0.16">Strongly Agreeable</text>
<text x="460.83" y="324.21" font-family='"Liberation Sans", sans-serif' font-size="4.4" font-weight="bold" font-style="normal" fill="#141414" text-anchor="start" textLength="18.26" lengthAdjust="spacingAndGlyphs" stroke="#141414" stroke-width="0.16">Agreeable</text>
<text x="446.78" y="332.43" font-family='"Liberation Sans", sans-serif' font-size="4.4" font-weight="bold" font-style="normal" fill="#141414" text-anchor="start" textLength="65.45" lengthAdjust="spacingAndGlyphs" stroke="#141414" stroke-width="0.16">Neither Agreeable Nor Disagreeable</text>
<text x="432.91" y="340.73" font-family='"Liberation Sans", sans-serif' font-size="4.4" font-weight="bold" font-style="normal" fill="#141414" text-anchor="start" textLength="24.32" lengthAdjust="spacingAndGlyphs" stroke="#141414" stroke-width="0.16">Disagreeable</text>
<text x="417.32" y="348.77" font-family='"Liberation Sans", sans-serif' font-size="4.4" font-weight="bold" font-style="normal" fill="#141414" text-anchor="start" textLength="39.21" lengthAdjust="spacingAndGlyphs" stroke="#141414" stroke-width="0.16">Strongly Disagreeable</text>
<text x="495.97" y="250.54" font-family='"Liberation Sans", sans-serif' font-size="4.4" font-weight="bold" font-style="normal" fill="#141414" text-anchor="start" textLength="30.27" lengthAdjust="spacingAndGlyphs" stroke="#141414" stroke-width="0.16">Strongly Neurotic</text>
<text x="495.94" y="260.72" font-family='"Liberation Sans", sans-serif' font-size="4.4" font-weight="bold" font-style="normal" fill="#141414" text-anchor="start" textLength="15.09" lengthAdjust="spacingAndGlyphs" stroke="#141414" stroke-width="0.16">Neurotic</text>
<text x="495.9" y="272.77" font-family='"Liberation Sans", sans-serif' font-size="4.4" font-weight="bold" font-style="normal" fill="#141414" text-anchor="start" textLength="50.46" lengthAdjust="spacingAndGlyphs" stroke="#141414" stroke-width="0.16">Neither Neurotic Nor Stable</text>
<text x="495.87" y="284.52" font-family='"Liberation Sans", sans-serif' font-size="4.4" font-weight="bold" font-style="normal" fill="#141414" text-anchor="start" textLength="11.15" lengthAdjust="spacingAndGlyphs" stroke="#141414" stroke-width="0.16">Stable</text>
<text x="495.83" y="297.84" font-family='"Liberation Sans", sans-serif' font-size="4.4" font-weight="bold" font-style="normal" fill="#141414" text-anchor="start" textLength="26.81" lengthAdjust="spacingAndGlyphs" stroke="#141414" stroke-width="0.16">Strongly Stable</text>
<rect x="342.5" y="262.6" width="30" height="10.6" fill="rgba(235,235,235,0.55)"/>
<text x="378" y="230.15" font-family='"Liberation Sans", sans-serif' font-size="4.4" font-weight="bold" font-style="normal" fill="#141414" text-anchor="start" textLength="30.6" lengthAdjust="spacingAndGlyphs" stroke="#141414" stroke-width="0.16">New Observation</text>
<text x="343.9" y="268.15" font-family='"Liberation Sans", sans-serif' font-size="4.4" font-weight="bold" font-style="normal" fill="#141414" text-anchor="start" textLength="24.2" lengthAdjust="spacingAndGlyphs" stroke="#141414" stroke-width="0.16">Data Points in</text>
<text x="343.9" y="272.15" font-family='"Liberation Sans", sans-serif' font-size="4.4" font-weight="bold" font-style="normal" fill="#141414" text-anchor="start" textLength="27" lengthAdjust="spacingAndGlyphs" stroke="#141414" stroke-width="0.16">the Training Set</text>
<line x1="377.5" y1="231.2" x2="372.7" y2="252" stroke="#333" stroke-width="0.45"/>
<line x1="373" y1="272.9" x2="379.1" y2="249.2" stroke="#333" stroke-width="0.45"/>
<line x1="373" y1="272.9" x2="380.8" y2="254" stroke="#333" stroke-width="0.45"/>
<line x1="373" y1="272.9" x2="383.5" y2="250.3" stroke="#333" stroke-width="0.45"/>
<circle cx="372.7" cy="252" r="1.8" fill="#1c2470" stroke="none" stroke-width="0.8"/>
<circle cx="379.1" cy="249.2" r="1.75" fill="#c8222a" stroke="none" stroke-width="0.8"/>
<circle cx="380.8" cy="254" r="1.75" fill="#c8222a" stroke="none" stroke-width="0.8"/>
<circle cx="383.5" cy="250.6" r="1.3" fill="#7a8aa8" stroke="none" stroke-width="0.8"/>
<text x="368.9" y="251.1" font-family='"Liberation Sans", sans-serif' font-size="3.6" font-weight="bold" font-style="normal" fill="#222" text-anchor="middle">A</text>
<text x="381.7" y="247.4" font-family='"Liberation Sans", sans-serif' font-size="3.6" font-weight="bold" font-style="normal" fill="#222" text-anchor="middle">B</text>
<rect x="489.7" y="248.4" width="4" height="6.72" fill="#d41a22"/>
<rect x="489.7" y="254.82" width="4" height="6.72" fill="#ec7a1e"/>
<rect x="489.7" y="261.24" width="4" height="6.72" fill="#eede1e"/>
<rect x="489.7" y="267.67" width="4" height="6.72" fill="#a4e046"/>
<rect x="489.7" y="274.09" width="4" height="6.72" fill="#46e0a2"/>
<rect x="489.7" y="280.51" width="4" height="6.72" fill="#28d0f0"/>
<rect x="489.7" y="286.93" width="4" height="6.72" fill="#2490ee"/>
<rect x="489.7" y="293.36" width="4" height="6.72" fill="#2244e0"/>
<rect x="489.7" y="299.78" width="4" height="6.72" fill="#1e22a8"/>
<rect x="133.2" y="386.1" width="276.8" height="153" fill="#fff" stroke="#9a9a9a" stroke-width="1.25"/>
<line x1="167.8" y1="386.1" x2="167.8" y2="388.3" stroke="#9a9a9a" stroke-width="0.6"/>
<line x1="167.8" y1="539.1" x2="167.8" y2="536.9" stroke="#9a9a9a" stroke-width="0.6"/>
<line x1="202.6" y1="386.1" x2="202.6" y2="388.3" stroke="#9a9a9a" stroke-width="0.6"/>
<line x1="202.6" y1="539.1" x2="202.6" y2="536.9" stroke="#9a9a9a" stroke-width="0.6"/>
<line x1="237.4" y1="386.1" x2="237.4" y2="388.3" stroke="#9a9a9a" stroke-width="0.6"/>
<line x1="237.4" y1="539.1" x2="237.4" y2="536.9" stroke="#9a9a9a" stroke-width="0.6"/>
<line x1="272.2" y1="386.1" x2="272.2" y2="388.3" stroke="#9a9a9a" stroke-width="0.6"/>
<line x1="272.2" y1="539.1" x2="272.2" y2="536.9" stroke="#9a9a9a" stroke-width="0.6"/>
<line x1="307" y1="386.1" x2="307" y2="388.3" stroke="#9a9a9a" stroke-width="0.6"/>
<line x1="307" y1="539.1" x2="307" y2="536.9" stroke="#9a9a9a" stroke-width="0.6"/>
<line x1="341.8" y1="386.1" x2="341.8" y2="388.3" stroke="#9a9a9a" stroke-width="0.6"/>
<line x1="341.8" y1="539.1" x2="341.8" y2="536.9" stroke="#9a9a9a" stroke-width="0.6"/>
<line x1="376.6" y1="386.1" x2="376.6" y2="388.3" stroke="#9a9a9a" stroke-width="0.6"/>
<line x1="376.6" y1="539.1" x2="376.6" y2="536.9" stroke="#9a9a9a" stroke-width="0.6"/>
<line x1="133.2" y1="411.6" x2="135.4" y2="411.6" stroke="#9a9a9a" stroke-width="0.6"/>
<line x1="410" y1="411.6" x2="407.8" y2="411.6" stroke="#9a9a9a" stroke-width="0.6"/>
<line x1="133.2" y1="437.05" x2="135.4" y2="437.05" stroke="#9a9a9a" stroke-width="0.6"/>
<line x1="410" y1="437.05" x2="407.8" y2="437.05" stroke="#9a9a9a" stroke-width="0.6"/>
<line x1="133.2" y1="462.5" x2="135.4" y2="462.5" stroke="#9a9a9a" stroke-width="0.6"/>
<line x1="410" y1="462.5" x2="407.8" y2="462.5" stroke="#9a9a9a" stroke-width="0.6"/>
<line x1="133.2" y1="487.95" x2="135.4" y2="487.95" stroke="#9a9a9a" stroke-width="0.6"/>
<line x1="410" y1="487.95" x2="407.8" y2="487.95" stroke="#9a9a9a" stroke-width="0.6"/>
<line x1="133.2" y1="513.4" x2="135.4" y2="513.4" stroke="#9a9a9a" stroke-width="0.6"/>
<line x1="410" y1="513.4" x2="407.8" y2="513.4" stroke="#9a9a9a" stroke-width="0.6"/>
<polyline points="140.12,464.9 147.04,443.4 153.96,447.6 160.88,477.4 167.8,455.9 174.72,459 181.64,423.2 188.56,495.1 195.48,471.3 202.4,490 209.32,489 216.24,453.4 223.16,515.2 230.08,451.9 237,477.3 243.92,450.3 250.84,481.7 257.76,456.3 264.68,483.8 271.6,445.2 278.52,435.9 285.44,453.6 292.36,455.1 299.28,405.9 306.2,445.6 313.12,455.1 320.04,467.5 326.96,451.9 333.88,456.3 340.8,448.6 347.72,437.1 354.64,450.8 361.56,500.2 368.48,515.1 375.4,480.2 382.32,490.4 389.24,490.4 396.16,451.3 403.08,455.4 410,437.3" fill="none" stroke="#7676ff" stroke-width="1.1" stroke-linejoin="round"/>
<polyline points="140.12,458.1 147.04,428.9 153.96,433.5 160.88,470.6 167.8,448.6 174.72,445.6 181.64,418.6 188.56,490.2 195.48,455.4 202.4,485 209.32,477.9 216.24,435.8 223.16,506.4 230.08,436.4 237,457.8 243.92,434.9 250.84,469.5 257.76,446.4 264.68,478.7 271.6,434.8 278.52,429.3 285.44,434.2 292.36,437.5 299.28,399.9 306.2,429.7 313.12,435.7 320.04,461.2 326.96,438 333.88,447.5 340.8,431.6 347.72,429.4 354.64,441.3 361.56,491.2 368.48,505.8 375.4,469.8 382.32,471.8 389.24,484.9 396.16,445.6 403.08,435.5 410,425.9" fill="none" stroke="#ff5c5c" stroke-width="1.1" stroke-linejoin="round"/>
<polygon points="140.12,461.68 137.12,466.88 143.12,466.88" fill="none" stroke="#3b3bff" stroke-width="0.85"/>
<polygon points="147.04,440.18 144.04,445.38 150.04,445.38" fill="none" stroke="#3b3bff" stroke-width="0.85"/>
<polygon points="153.96,444.38 150.96,449.58 156.96,449.58" fill="none" stroke="#3b3bff" stroke-width="0.85"/>
<polygon points="160.88,474.18 157.88,479.38 163.88,479.38" fill="none" stroke="#3b3bff" stroke-width="0.85"/>
<polygon points="167.8,452.68 164.8,457.88 170.8,457.88" fill="none" stroke="#3b3bff" stroke-width="0.85"/>
<polygon points="174.72,455.78 171.72,460.98 177.72,460.98" fill="none" stroke="#3b3bff" stroke-width="0.85"/>
<polygon points="181.64,419.98 178.64,425.18 184.64,425.18" fill="none" stroke="#3b3bff" stroke-width="0.85"/>
<polygon points="188.56,491.88 185.56,497.08 191.56,497.08" fill="none" stroke="#3b3bff" stroke-width="0.85"/>
<polygon points="195.48,468.08 192.48,473.28 198.48,473.28" fill="none" stroke="#3b3bff" stroke-width="0.85"/>
<polygon points="202.4,486.78 199.4,491.98 205.4,491.98" fill="none" stroke="#3b3bff" stroke-width="0.85"/>
<polygon points="209.32,485.78 206.32,490.98 212.32,490.98" fill="none" stroke="#3b3bff" stroke-width="0.85"/>
<polygon points="216.24,450.18 213.24,455.38 219.24,455.38" fill="none" stroke="#3b3bff" stroke-width="0.85"/>
<polygon points="223.16,511.98 220.16,517.18 226.16,517.18" fill="none" stroke="#3b3bff" stroke-width="0.85"/>
<polygon points="230.08,448.68 227.08,453.88 233.08,453.88" fill="none" stroke="#3b3bff" stroke-width="0.85"/>
<polygon points="237,474.08 234,479.28 240,479.28" fill="none" stroke="#3b3bff" stroke-width="0.85"/>
<polygon points="243.92,447.08 240.92,452.28 246.92,452.28" fill="none" stroke="#3b3bff" stroke-width="0.85"/>
<polygon points="250.84,478.48 247.84,483.68 253.84,483.68" fill="none" stroke="#3b3bff" stroke-width="0.85"/>
<polygon points="257.76,453.08 254.76,458.28 260.76,458.28" fill="none" stroke="#3b3bff" stroke-width="0.85"/>
<polygon points="264.68,480.58 261.68,485.78 267.68,485.78" fill="none" stroke="#3b3bff" stroke-width="0.85"/>
<polygon points="271.6,441.98 268.6,447.18 274.6,447.18" fill="none" stroke="#3b3bff" stroke-width="0.85"/>
<polygon points="278.52,432.68 275.52,437.88 281.52,437.88" fill="none" stroke="#3b3bff" stroke-width="0.85"/>
<polygon points="285.44,450.38 282.44,455.58 288.44,455.58" fill="none" stroke="#3b3bff" stroke-width="0.85"/>
<polygon points="292.36,451.88 289.36,457.08 295.36,457.08" fill="none" stroke="#3b3bff" stroke-width="0.85"/>
<polygon points="299.28,402.68 296.28,407.88 302.28,407.88" fill="none" stroke="#3b3bff" stroke-width="0.85"/>
<polygon points="306.2,442.38 303.2,447.58 309.2,447.58" fill="none" stroke="#3b3bff" stroke-width="0.85"/>
<polygon points="313.12,451.88 310.12,457.08 316.12,457.08" fill="none" stroke="#3b3bff" stroke-width="0.85"/>
<polygon points="320.04,464.28 317.04,469.48 323.04,469.48" fill="none" stroke="#3b3bff" stroke-width="0.85"/>
<polygon points="326.96,448.68 323.96,453.88 329.96,453.88" fill="none" stroke="#3b3bff" stroke-width="0.85"/>
<polygon points="333.88,453.08 330.88,458.28 336.88,458.28" fill="none" stroke="#3b3bff" stroke-width="0.85"/>
<polygon points="340.8,445.38 337.8,450.58 343.8,450.58" fill="none" stroke="#3b3bff" stroke-width="0.85"/>
<polygon points="347.72,433.88 344.72,439.08 350.72,439.08" fill="none" stroke="#3b3bff" stroke-width="0.85"/>
<polygon points="354.64,447.58 351.64,452.78 357.64,452.78" fill="none" stroke="#3b3bff" stroke-width="0.85"/>
<polygon points="361.56,496.98 358.56,502.18 364.56,502.18" fill="none" stroke="#3b3bff" stroke-width="0.85"/>
<polygon points="368.48,511.88 365.48,517.08 371.48,517.08" fill="none" stroke="#3b3bff" stroke-width="0.85"/>
<polygon points="375.4,476.98 372.4,482.18 378.4,482.18" fill="none" stroke="#3b3bff" stroke-width="0.85"/>
<polygon points="382.32,487.18 379.32,492.38 385.32,492.38" fill="none" stroke="#3b3bff" stroke-width="0.85"/>
<polygon points="389.24,487.18 386.24,492.38 392.24,492.38" fill="none" stroke="#3b3bff" stroke-width="0.85"/>
<polygon points="396.16,448.08 393.16,453.28 399.16,453.28" fill="none" stroke="#3b3bff" stroke-width="0.85"/>
<polygon points="403.08,452.18 400.08,457.38 406.08,457.38" fill="none" stroke="#3b3bff" stroke-width="0.85"/>
<polygon points="410,434.08 407,439.28 413,439.28" fill="none" stroke="#3b3bff" stroke-width="0.85"/>
<circle cx="140.12" cy="458.1" r="1.8" fill="#ff2626" stroke="none" stroke-width="0.8"/>
<circle cx="147.04" cy="428.9" r="1.8" fill="#ff2626" stroke="none" stroke-width="0.8"/>
<circle cx="153.96" cy="433.5" r="1.8" fill="#ff2626" stroke="none" stroke-width="0.8"/>
<circle cx="160.88" cy="470.6" r="1.8" fill="#ff2626" stroke="none" stroke-width="0.8"/>
<circle cx="167.8" cy="448.6" r="1.8" fill="#ff2626" stroke="none" stroke-width="0.8"/>
<circle cx="174.72" cy="445.6" r="1.8" fill="#ff2626" stroke="none" stroke-width="0.8"/>
<circle cx="181.64" cy="418.6" r="1.8" fill="#ff2626" stroke="none" stroke-width="0.8"/>
<circle cx="188.56" cy="490.2" r="1.8" fill="#ff2626" stroke="none" stroke-width="0.8"/>
<circle cx="195.48" cy="455.4" r="1.8" fill="#ff2626" stroke="none" stroke-width="0.8"/>
<circle cx="202.4" cy="485" r="1.8" fill="#ff2626" stroke="none" stroke-width="0.8"/>
<circle cx="209.32" cy="477.9" r="1.8" fill="#ff2626" stroke="none" stroke-width="0.8"/>
<circle cx="216.24" cy="435.8" r="1.8" fill="#ff2626" stroke="none" stroke-width="0.8"/>
<circle cx="223.16" cy="506.4" r="1.8" fill="#ff2626" stroke="none" stroke-width="0.8"/>
<circle cx="230.08" cy="436.4" r="1.8" fill="#ff2626" stroke="none" stroke-width="0.8"/>
<circle cx="237" cy="457.8" r="1.8" fill="#ff2626" stroke="none" stroke-width="0.8"/>
<circle cx="243.92" cy="434.9" r="1.8" fill="#ff2626" stroke="none" stroke-width="0.8"/>
<circle cx="250.84" cy="469.5" r="1.8" fill="#ff2626" stroke="none" stroke-width="0.8"/>
<circle cx="257.76" cy="446.4" r="1.8" fill="#ff2626" stroke="none" stroke-width="0.8"/>
<circle cx="264.68" cy="478.7" r="1.8" fill="#ff2626" stroke="none" stroke-width="0.8"/>
<circle cx="271.6" cy="434.8" r="1.8" fill="#ff2626" stroke="none" stroke-width="0.8"/>
<circle cx="278.52" cy="429.3" r="1.8" fill="#ff2626" stroke="none" stroke-width="0.8"/>
<circle cx="285.44" cy="434.2" r="1.8" fill="#ff2626" stroke="none" stroke-width="0.8"/>
<circle cx="292.36" cy="437.5" r="1.8" fill="#ff2626" stroke="none" stroke-width="0.8"/>
<circle cx="299.28" cy="399.9" r="1.8" fill="#ff2626" stroke="none" stroke-width="0.8"/>
<circle cx="306.2" cy="429.7" r="1.8" fill="#ff2626" stroke="none" stroke-width="0.8"/>
<circle cx="313.12" cy="435.7" r="1.8" fill="#ff2626" stroke="none" stroke-width="0.8"/>
<circle cx="320.04" cy="461.2" r="1.8" fill="#ff2626" stroke="none" stroke-width="0.8"/>
<circle cx="326.96" cy="438" r="1.8" fill="#ff2626" stroke="none" stroke-width="0.8"/>
<circle cx="333.88" cy="447.5" r="1.8" fill="#ff2626" stroke="none" stroke-width="0.8"/>
<circle cx="340.8" cy="431.6" r="1.8" fill="#ff2626" stroke="none" stroke-width="0.8"/>
<circle cx="347.72" cy="429.4" r="1.8" fill="#ff2626" stroke="none" stroke-width="0.8"/>
<circle cx="354.64" cy="441.3" r="1.8" fill="#ff2626" stroke="none" stroke-width="0.8"/>
<circle cx="361.56" cy="491.2" r="1.8" fill="#ff2626" stroke="none" stroke-width="0.8"/>
<circle cx="368.48" cy="505.8" r="1.8" fill="#ff2626" stroke="none" stroke-width="0.8"/>
<circle cx="375.4" cy="469.8" r="1.8" fill="#ff2626" stroke="none" stroke-width="0.8"/>
<circle cx="382.32" cy="471.8" r="1.8" fill="#ff2626" stroke="none" stroke-width="0.8"/>
<circle cx="389.24" cy="484.9" r="1.8" fill="#ff2626" stroke="none" stroke-width="0.8"/>
<circle cx="396.16" cy="445.6" r="1.8" fill="#ff2626" stroke="none" stroke-width="0.8"/>
<circle cx="403.08" cy="435.5" r="1.8" fill="#ff2626" stroke="none" stroke-width="0.8"/>
<circle cx="410" cy="425.9" r="1.8" fill="#ff2626" stroke="none" stroke-width="0.8"/>
<rect x="136.3" y="520.6" width="238.9" height="14.2" fill="#fff" stroke="#8a8a8a" stroke-width="1.0"/>
<line x1="138.6" y1="528.2" x2="160.5" y2="528.2" stroke="#7676ff" stroke-width="1"/>
<polygon points="150.2,524.98 147.2,530.18 153.2,530.18" fill="none" stroke="#3b3bff" stroke-width="0.75"/>
<line x1="256.5" y1="528.2" x2="278.4" y2="528.2" stroke="#ff5c5c" stroke-width="1"/>
<circle cx="268" cy="528.2" r="1.6" fill="#ff2626" stroke="none" stroke-width="0.8"/>
<text x="162.9" y="531.9" font-family='"Liberation Sans", sans-serif' font-size="10.3" font-weight="bold" font-style="normal" fill="#222" text-anchor="start" textLength="87.8" lengthAdjust="spacingAndGlyphs">Safety Compliance</text>
<text x="280.9" y="531.9" font-family='"Liberation Sans", sans-serif' font-size="10.3" font-weight="bold" font-style="normal" fill="#222" text-anchor="start" textLength="91.2" lengthAdjust="spacingAndGlyphs">Safety Participation</text>
</svg>
</body></html>
